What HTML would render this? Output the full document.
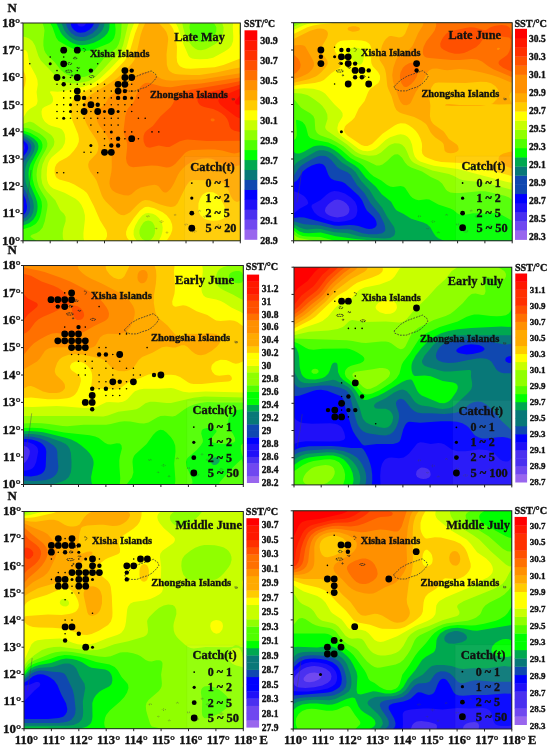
<!DOCTYPE html>
<html><head><meta charset="utf-8"><style>
html,body{margin:0;padding:0;background:#fff;}
svg{display:block;}
text{font-family:"Liberation Serif","Times New Roman",serif;font-weight:bold;fill:#111;stroke:#111;stroke-width:0.35px;}
</style></head><body>
<svg width="550" height="748" viewBox="0 0 550 748">
<rect width="550" height="748" fill="#fff"/>
<clipPath id="c1"><rect x="23" y="23" width="217.3" height="217.8"/></clipPath>
<g clip-path="url(#c1)">
<rect x="23" y="23" width="217.3" height="217.8" fill="#2010f8"/>
<path fill="#0000ff" d="M23 23l54.3 0 .3 1.5 1.2 1.5 1.5 .6 1.6 0 1.5-.4 1.5-1 1.4-2.2 154 0 0 217.8-217.3 0 0-30.3 .9-4.2-.2-3.1-.7-3.2 0-47.6 1.1-1.7 .8-3-.6-3-1.3-1.8z"/>
<path fill="#1048b0" d="M23 23l47.7 0 .6 3 .7 1.5 2.3 2.8 3 1.9 3 .6 4.6-.6 4.5-2.5 3-3 1.8-3.7 146.1 0 0 217.8-217.3 0 0-25.1 2.8-3.4 1-3 .2-3-.9-6.1-3.1-7.1 0-36.3 3.7-4.6 1.3-3 .2-1.5-.6-3-1-1.5-3.6-3.3z"/>
<path fill="#087878" d="M23 23l43 0 .7 3 1.4 3 3.2 4 4.5 3.1 4.5 1 3.1-.2 3-.7 6-3 4.5-4.2 1.8-3 .9-3 140.7 0 0 217.8-217.3 0 0-21.6 3.4-2.4 2.3-3 1.2-3 .4-4.5-.6-4.6-1.4-4.5-5.3-10.9 0-23.9 6.3-8.7 1.5-3 .7-3-.5-3-2-2.9-1.8-1.6-4.2-2.7z"/>
<path fill="#00a850" d="M23 23l38.4 0 3.1 7.5 2.1 3 3 3 3.2 2.3 3 1.4 3 .7 3.1 .2 3-.3 4.6-1.3 4.4-2 3.8-2.5 3.2-3 2-3 1.1-3 .5-3 135.8 0 0 217.8-217.3 0 0-18.5 4.5-2.3 3.4-3.2 2.2-4.5 .7-4.5-.1-3-.9-4.6-5.7-13.5-1.5-4.5-.8-6 .2-6 .9-4.5 1.2-3 5.6-9 1.4-3 .8-4.5-1.1-3-2.5-3-3.8-2.7-4.5-2.2z"/>
<path fill="#00ff00" d="M23 23l33.2 0 4.5 9.6 1.7 2.4 2.9 3.1 3.7 2.9 3.8 2.2 4.5 1.6 4.6 .5 6-.7 6-1.9 6.1-2.9 4.5-3.2 2.8-3.1 1.5-3 .6-3 .1-4.5 130.8 0 0 217.8-217.3 0 0-15.3 6-2.3 4.2-3.4 2.8-4.5 1.3-4.5 .3-4.5-.5-4.6-1.5-4.5-5.8-13.5-1-4.5-.3-6 .5-4.5 1.4-4.5 6.5-12 1.2-3 .4-3-.7-3-.9-1.5-2.9-3-5-3.2-6-2.4z"/>
<path fill="#50ff00" d="M23 23l27.2 0 2.4 4.5 3.6 10.3 2.4 3.2 9.7 5.6 6 2.7 4.5 1.3 6.1 .4 4.5-.4 6-1.8 13.6-5.5 3-2.2 2.1-3.1 1.2-4.5 .3-4.5-.6-6 125.3 0 0 217.8-217.3 0 0-11.6 7.5-2.1 4.7-2.8 1.5-1.5 2-3 1.3-3 1.2-4.5 .8-6-.4-4.6-1-3-4.6-9-1.8-4.5-1.5-6-.3-4.5 .3-4.5 1-4.5 1.8-4.5 5.7-10.5 1.1-3 .2-3-.9-3-.9-1.5-3.1-3-7.1-4.1-7.5-2.5z"/>
<path fill="#90ff00" d="M23 23l19.5 0 1.5 4.5 .5 3-1.1 10.5 0 4.5 .8 4.5 1.4 3.1 2.3 2.9 6.6 6.1 5.9 7.5 3.3 3 3.1 1.9 4.5 1.8 3 .8 4.5 .4 6.1-.7 3.4-1.2 2.6-1.7 4.2-4.3 10.7-13.6 7.7-5.5 3.1-2.8 2.1-3.7 1.8-6 .7-6 .4-9 69 0-.8 1.5-.4 3 1 4.5 1.4 3 2.2 3 2.5 2.4 1.5 .9 3.1 .7 3-.3 4.5-1.8 3-2 3-3.1 1.6-3.1 .2-4.2-1.5-3-1.8-1.5 27.2 0 0 217.8-203.7 0-5-3-1.3-1.5 .2-.2 1.4-1.3 4.7-1.9 3-1.8 3-3.6 2.2-6.2 2.3-12 .5-4.5-.4-3.1-1.2-3-4.9-7.6-2.3-4.4-1.7-6-.6-6 .6-6 1.2-4.5 1.8-4.5 5.9-10.5 1.2-3 .2-3-.9-3-.9-1.5-3-3-3-2.1-9.1-4.7-3-.8-4.5-.4z"/>
<path fill="#c8ff00" d="M128 24.5l.7-1.5 53.6 0 .8 4.5 1.7 6 1.9 4.5 2.3 4.1 3 3.9 3 2.5 3 1.4 3.1 .4 4.5-1 4.5-2.2 6.1-3.6 4.2-4 1.8-3 1.2-4.5 .2-4.5-1.4-4.5 18.1 0 0 217.8-91.5 0 2.7-1.5 2.2-3 1.1-3 .3-4.5-.6-3-1.6-3-1.8-1.5-2.9-.9-3 .8-1.9 1.6-2.6 3.9-1.2 3.6-.1 3 .8 3 2 2.7 3 1.8-81.5 0-.8-3-.2-4.5 .6-4.5 2.3-7.5 0-4.5-1.7-3-3.2-3.1-1-1.4-4.4-9.1-8.2-8.5-2.6-3.5-2.2-4.5-1.1-6 .2-7.5 1.2-6 3-6.7 7.8-11.3 .6-1.5 .4-3-.6-3-1.9-3-1.7-1.5-9.4-6.1-7.2-5.4-3.1-1-1.5 .1-6 2.3 0-87.5 3 .6 3 1.3 3.3 2.5 2.7 4.5 3.4 10.5 2.4 4.6 16.9 17.3 4.5 3 4.6 1.7 6 .8 6-.3 9.1-1.9 3-1.2 4.5-2.9 7.6-7.5 8.1-9 7.7-7.6 2.3-3.1 1.9-4.4z"/>
<path fill="#ffff00" d="M134.2 23l41.5 0 2.3 4.5 5 15.5 5.6 13 1.4 1.5 2 1 3 .6 4.6 .1 7.5-.2 6-1.2 11.5-6.3 4.4-3 2.5-3 1.6-4.5 .2-4.5-.5-9 .3-4.5 7.2 0-.9 3-.2 4.5 .2 3 .9 3.1 0 204.2-81.5 0 2.3-4.5 1.3-4.5 .3-4.5-.9-4.5-2.7-4.5-3.3-3-3-1.6-4.6-.8-3 .7-3 2-3.6 4.2-3.4 6-1.5 4.5-.1 4.5 1 3 2.1 3-52.6 0-.6-3-.1-4.5 1.5-13.5 0-4.5-1.5-6-2.1-4.5-2.5-3.4-3.2-2.7-11.1-6-11.3-4.1-3-2.3-1.8-2.6-1.3-3.7-.4-5.3 .5-7.5 1.1-4.5 1.5-3 1.9-2.4 7.7-6.6 3-3 2.3-4.5 .6-4.5-.6-4.5-1-2.3-1.7-2.3-2.8-1.7-7.5-1.9-3-1.3-3.5-2.6-1.2-1.5-1.6-3-.7-3-.2-3 .9-3 2-1.5 6.6-3 1.4-1.5 .6-1.5 .1-1.5-.6-3-2.7-4.5 .4-.6 1.5-.3 6 .5 6-.6 19.7-4.4 9-3.1 3.5-2 4.1-3 9.5-9 11.4-12.1 3.2-4.4 2.6-6.1 4-15zM23.8 50l.7-.1 1.5 .6 1.5 2.2 1.8 10.9 6.5 12 1.6 4.5 .4 4.5-1.2 7.5 1 9-.7 3-1.1 1.5-5.3 3-3 2.3-1.5 2-3 5.3 0-68z"/>
<path fill="#ffcc00" d="M139.1 23l29.6 0 .7 .7 2 2.3 1.8 3 2.3 7.5 1.5 10.5-.3 10.5 .5 4.6 1.6 3 1.6 1.5 2.6 1.2 3 .8 4.5 .2 24.1-1.5 8.8-2.2 16.9-6.5 0 182.2-73.7 0 3.9-6 1.7-4.5 .2-3-.4-3-1.8-4.5-3.6-4.5-4-3-8.3-4.1-6.1-1.4-3 .3-1.5 .6-3.9 3.1-6.1 7.5-6 9-1.6 4.5 0 3 1 3 2.4 3-25 0 1.5-2.1 1-2.4 0-3-.8-3-6.2-10.1-6.1-13.9-6.2-12.1-1.3-1.7-3-2.6-9.1-5.4-5-2.3-10.1-2.6-2.6-1.9-1-1.5-.9-3-.1-3 .4-3 1.4-3 2.8-2.7 7.6-4 3-2.3 4-4.5 3.2-4.5 1.8-4.5 .1-3-.8-4.5-5.7-13.6-1.6-6-.3-4.5 .1-3 1.1-4.5 1.4-3 2.4-3 4-3 15.9-7.2 7.5-4.8 9-7.5 12.2-12.9 2.8-3.7 2.4-4.5 5.7-19.5zM205.6 192.7l-2.5 1.5-1.3 1.5-1.8 3-1.5 4.5-.2 6.1 .7 3 1.5 3 3.6 3.2 3 1.3 3 .7 3 .2 4.6-.2 3.1-.7 3.2-1.5 1.6-1.5 .8-1.5 .2-3-2.8-7.5-4.1-7.6-2.8-3-3.8-2-4.5-.3zM23 71.1l0-1.2 2 4.2 .9 4.5-.7 6-2.2 6.5z"/>
<path fill="#ffaa00" d="M145.2 23l13.6 0 5.5 6 2.1 3 1.5 4.4 .3 3.1-1.7 15 .4 10.6 1.5 4.5 1.2 1.5 2.8 1.9 3 .9 4.5 .6 12.1 .5 7.6-.1 16.6-2.4 18.1-4 6-.9 0 132.4-1.5 1.3-1.5 .6-1.5-.3-1.5-.8-1.5-1.5-1.6-2.5-4.3-10.1-1.7-2.2-1.5-1.2-3-1.4-3-.8-9.1-.9-15.1-.3-2.9 .8-1.6 1.2-3 4.4-8.4 16.9-2.2 2.6-1.5 .8-3 .4-4.5-.7-6.1-1.8-10.5-4.1-4.6-.4-3 .9-1.5 1-3 2.5-7.6 7.8-3 1.9-3 1.1-3-.1-3-1.5-12.1-11.9-2.4-3-1.7-3-5.3-15-1.8-3-4.5-6-1.9-4.5-.2-3 1-3 7.2-7.5 1.4-3 .7-4.5-.6-3-1.2-3-7.2-10.6-3.1-6-2.5-6-1.2-6 .1-3 .8-4.5 2-4.5 2.7-3 4.4-3 16.3-9.8 7.6-5.2 8.5-7.5 6.8-7.5 2.1-3 2-4.6 4.6-21 2-6z"/>
<path fill="#ff9000" d="M142.3 72.6l4.4-.9 3.1 .4 3 1.3 5.4 3.7 3.6 1.8 4.6 1.3 6 .6 12.1-.8 16.6-.5 39.2-6.3 0 91.8-4.5 1.3-6.1-.1-6-1.6-9.1-4.9-3-1-4.5-.5-6 .6-4.6 1.2-6 2.6-4.5 2.9-3 2.7-3.1 3.5-1.9 3-4.1 8.8-3 5.1-3 3-1.5 .8-1.6 .1-1.5-.6-1.5-1.4-3-4.1-2-1.2-2.5-.4-6.1 .9-7.5 1.9-4.5 2.5-4.8 4.1-2.8 1.3-4.5-.2-6-1.7-3-1.3-3.1-2.4-1.9-3.2-.6-3 .1-3 1.8-9 .4-4.5-.2-15-.7-6-1.3-4.5-2.6-6-1.9-3-5.1-6.1-2.5-4.5-1-4.5 .4-4.1 1.6-3.4 6.5-6 3.5-6 2.5-3 4.1-2.6 7.5-3.5 3-1.8 4.5-3.9 7.2-7.7 2-1.5z"/>
<path fill="#ff7000" d="M233.5 78.6l6.8-1.2 0 74.5-3 1.1-3 .4-3.1-.4-9-2.4-7.6-1-7.5-.1-15.1 .5-3 .7-3 1.5-1.7 1.5-8.9 10-3 2.3-3 1.2-3 .2-9.1-1.6-6-.4-18.1 1.8-3.1-.7-1.5-1.1-1.8-2.7-.8-4.5 1.1-10.5 0-4.5-.8-3-2.2-6-.6-3.1 1.8-15 1.8-6 1.5-2.3 4.7-5.2 1.5-3 3.4-9 1.7-3 2.3-2.7 3-1.8 3-.3 13.6 3.7 4.6 .6 4.5 .1 15.1-2.4 15.1-1.2z"/>
<path fill="#ff5000" d="M238.2 81.6l2.1-.5 0 59.7-33.2 .3-19.6-1.6-3 .4-4.6 1.3-10.5 5.7-3 .1-7.6-1.5-9 2.2-3.1-.7-1.5-1.5-1.5-3.8-.3-3 .2-3 1.1-3 2-2.2 6.1-4.5 7.5-9.4 10.4-9.5 2-3 2.7-6 2.9-3 5.1-3 7.1-2.3 22.6-3.9 15.1-2.3zM211.6 118.6l-.9 .5 .1 1.5 .8 .7 1.5 .3 1.6-1-.3-1.5-1.3-.6z"/>
<path fill="#ff3000" d="M235.8 86.1l4.5-1.5 0 47.3-6-1.1-3.1-1.7-1.5-2.4-1.2-4.6-1.3-3-2.3-3-3.7-3-3.5-2.1-4.6-2-9-2.1-3-1.1-2.1-1.7-1.5-3 0-1.5 .5-1.5 1.2-1.5 2-1.5 3.2-1.5 7.2-2.2 16.6-3.3z"/>
<path fill="#ff1800" d="M239.2 89.1l1.1-.5 0 29.7-1.5-.4-3-1.5-12.7-9.3-3.3-3-1.5-3 .2-1.5 1-1.5 2-1.5z"/>
<path fill="#ff0000" d="M239.1 96.6l1.2-1.3 0 9.3-3 .1-1.5-.7-.8-1.4 .2-1.5z"/>
<path d="M123.0 86.7 129.5 80.2 136.0 76.4 143.6 73.6 151.2 70.9 155.6 74.2 156.6 76.9 154.5 80.2 150.1 84.5 145.8 87.3 140.3 88.9 134.9 91.1 128.4 91.1 123.5 88.9 123.0 86.7" fill="none" stroke="#333" stroke-width="0.8" stroke-dasharray="1.8 1.1"/>
<ellipse cx="69.7" cy="63.6" rx="1.9" ry="1.0" fill="none" stroke="#222" stroke-width="0.9" stroke-dasharray="1.8 0.7"/>
<ellipse cx="68.9" cy="71.2" rx="3.5" ry="1.1" fill="none" stroke="#222" stroke-width="0.9" stroke-dasharray="1.8 0.7"/>
<ellipse cx="78.1" cy="67.9" rx="1.4" ry="0.5" fill="none" stroke="#222" stroke-width="0.9" stroke-dasharray="1.8 0.7"/>
<ellipse cx="91.7" cy="76.6" rx="2.4" ry="1.0" fill="none" stroke="#222" stroke-width="0.9" stroke-dasharray="1.8 0.7"/>
<ellipse cx="71.9" cy="75.5" rx="0.8" ry="0.5" fill="none" stroke="#222" stroke-width="0.9" stroke-dasharray="1.8 0.7"/>
<ellipse cx="75.2" cy="58.1" rx="1.9" ry="0.8" fill="none" stroke="#222" stroke-width="0.9" stroke-dasharray="1.8 0.7"/>
<path d="M82.8 48.6q2.4 -0.6 2.6 1.5q-0.4 1.8 -2.4 1.6" fill="none" stroke="#222" stroke-width="0.8" stroke-dasharray="1.5 0.6"/>
<path d="M232.2 97.9v2h2.2v-1.2h-1.4" fill="none" stroke="#333" stroke-width="0.6"/>
<ellipse cx="147.9" cy="216.3" rx="1.4" ry="0.5" fill="none" stroke="#444" stroke-width="0.5" stroke-dasharray="0.8 0.8"/>
<ellipse cx="161.5" cy="221.7" rx="1.6" ry="0.8" fill="none" stroke="#444" stroke-width="0.5" stroke-dasharray="0.8 0.8"/>
<ellipse cx="175.1" cy="214.9" rx="1.1" ry="0.5" fill="none" stroke="#444" stroke-width="0.5" stroke-dasharray="0.8 0.8"/>
<ellipse cx="186.0" cy="224.5" rx="1.4" ry="0.5" fill="none" stroke="#444" stroke-width="0.5" stroke-dasharray="0.8 0.8"/>
<ellipse cx="194.1" cy="231.3" rx="2.2" ry="0.8" fill="none" stroke="#444" stroke-width="0.5" stroke-dasharray="0.8 0.8"/>
<ellipse cx="167.0" cy="232.6" rx="1.1" ry="0.5" fill="none" stroke="#444" stroke-width="0.5" stroke-dasharray="0.8 0.8"/>
<ellipse cx="205.0" cy="216.3" rx="1.4" ry="0.8" fill="none" stroke="#444" stroke-width="0.5" stroke-dasharray="0.8 0.8"/>
<ellipse cx="156.1" cy="228.5" rx="0.8" ry="0.5" fill="none" stroke="#444" stroke-width="0.5" stroke-dasharray="0.8 0.8"/>
<ellipse cx="218.6" cy="225.8" rx="1.6" ry="0.8" fill="none" stroke="#444" stroke-width="0.5" stroke-dasharray="0.8 0.8"/>
<ellipse cx="199.6" cy="210.9" rx="1.1" ry="0.5" fill="none" stroke="#444" stroke-width="0.5" stroke-dasharray="0.8 0.8"/>
<path d="M31.1 170.0L29.0 186.4L26.3 202.7" fill="none" stroke="#445" stroke-width="0.6" opacity="0.7"/>
<rect x="184.6" y="156.5" width="57.7" height="86.3" fill="#fff" fill-opacity="0.05" stroke="#000" stroke-opacity="0.05" stroke-width="0.6"/>
<g fill="#000"><circle cx="63.7" cy="50.2" r="3.4"/><circle cx="77.3" cy="50.2" r="3.4"/><circle cx="50.2" cy="57.0" r="0.8"/><circle cx="63.7" cy="57.0" r="0.8"/><circle cx="29.8" cy="63.8" r="0.8"/><circle cx="50.2" cy="63.8" r="1.5"/><circle cx="63.7" cy="63.8" r="3.4"/><circle cx="97.7" cy="63.8" r="0.8"/><circle cx="57.0" cy="70.6" r="0.8"/><circle cx="77.3" cy="70.6" r="0.8"/><circle cx="90.9" cy="70.6" r="2.2"/><circle cx="124.9" cy="70.6" r="3.4"/><circle cx="131.7" cy="70.6" r="2.2"/><circle cx="57.0" cy="77.5" r="3.4"/><circle cx="63.7" cy="77.5" r="1.5"/><circle cx="70.5" cy="77.5" r="0.8"/><circle cx="77.3" cy="77.5" r="3.4"/><circle cx="124.9" cy="77.5" r="3.4"/><circle cx="131.7" cy="77.5" r="3.4"/><circle cx="57.0" cy="84.3" r="0.8"/><circle cx="63.7" cy="84.3" r="2.2"/><circle cx="70.5" cy="84.3" r="0.8"/><circle cx="77.3" cy="84.3" r="0.8"/><circle cx="84.1" cy="84.3" r="0.8"/><circle cx="90.9" cy="84.3" r="0.8"/><circle cx="97.7" cy="84.3" r="0.8"/><circle cx="104.5" cy="84.3" r="0.8"/><circle cx="118.1" cy="84.3" r="3.4"/><circle cx="124.9" cy="84.3" r="3.4"/><circle cx="131.7" cy="84.3" r="0.8"/><circle cx="63.7" cy="91.1" r="0.8"/><circle cx="70.5" cy="91.1" r="0.8"/><circle cx="77.3" cy="91.1" r="3.4"/><circle cx="84.1" cy="91.1" r="0.8"/><circle cx="90.9" cy="91.1" r="0.8"/><circle cx="97.7" cy="91.1" r="0.8"/><circle cx="104.5" cy="91.1" r="0.8"/><circle cx="111.3" cy="91.1" r="0.8"/><circle cx="118.1" cy="91.1" r="3.4"/><circle cx="124.9" cy="91.1" r="2.2"/><circle cx="131.7" cy="91.1" r="0.8"/><circle cx="138.4" cy="91.1" r="0.8"/><circle cx="63.7" cy="97.9" r="0.8"/><circle cx="70.5" cy="97.9" r="0.8"/><circle cx="77.3" cy="97.9" r="3.4"/><circle cx="84.1" cy="97.9" r="2.2"/><circle cx="90.9" cy="97.9" r="0.8"/><circle cx="97.7" cy="97.9" r="0.8"/><circle cx="104.5" cy="97.9" r="0.8"/><circle cx="111.3" cy="97.9" r="0.8"/><circle cx="118.1" cy="97.9" r="2.2"/><circle cx="124.9" cy="97.9" r="2.2"/><circle cx="131.7" cy="97.9" r="1.5"/><circle cx="138.4" cy="97.9" r="0.8"/><circle cx="57.0" cy="104.7" r="0.8"/><circle cx="63.7" cy="104.7" r="0.8"/><circle cx="70.5" cy="104.7" r="1.5"/><circle cx="77.3" cy="104.7" r="0.8"/><circle cx="84.1" cy="104.7" r="1.5"/><circle cx="90.9" cy="104.7" r="3.4"/><circle cx="97.7" cy="104.7" r="2.2"/><circle cx="104.5" cy="104.7" r="0.8"/><circle cx="111.3" cy="104.7" r="0.8"/><circle cx="118.1" cy="104.7" r="0.8"/><circle cx="124.9" cy="104.7" r="0.8"/><circle cx="131.7" cy="104.7" r="0.8"/><circle cx="57.0" cy="111.5" r="0.8"/><circle cx="63.7" cy="111.5" r="0.8"/><circle cx="70.5" cy="111.5" r="1.5"/><circle cx="77.3" cy="111.5" r="0.8"/><circle cx="84.1" cy="111.5" r="3.4"/><circle cx="90.9" cy="111.5" r="0.8"/><circle cx="97.7" cy="111.5" r="3.4"/><circle cx="104.5" cy="111.5" r="1.5"/><circle cx="111.3" cy="111.5" r="3.4"/><circle cx="118.1" cy="111.5" r="1.5"/><circle cx="124.9" cy="111.5" r="0.8"/><circle cx="131.7" cy="111.5" r="0.8"/><circle cx="57.0" cy="118.3" r="0.8"/><circle cx="63.7" cy="118.3" r="1.5"/><circle cx="70.5" cy="118.3" r="0.8"/><circle cx="77.3" cy="118.3" r="0.8"/><circle cx="84.1" cy="118.3" r="0.8"/><circle cx="90.9" cy="118.3" r="0.8"/><circle cx="97.7" cy="118.3" r="0.8"/><circle cx="104.5" cy="118.3" r="0.8"/><circle cx="111.3" cy="118.3" r="0.8"/><circle cx="118.1" cy="118.3" r="0.8"/><circle cx="138.4" cy="118.3" r="0.8"/><circle cx="145.2" cy="118.3" r="0.8"/><circle cx="90.9" cy="125.1" r="0.8"/><circle cx="104.5" cy="125.1" r="0.8"/><circle cx="111.3" cy="125.1" r="0.8"/><circle cx="118.1" cy="125.1" r="0.8"/><circle cx="97.7" cy="131.9" r="0.8"/><circle cx="104.5" cy="131.9" r="0.8"/><circle cx="111.3" cy="131.9" r="1.5"/><circle cx="124.9" cy="131.9" r="0.8"/><circle cx="131.7" cy="131.9" r="0.8"/><circle cx="152.0" cy="131.9" r="0.8"/><circle cx="158.8" cy="131.9" r="0.8"/><circle cx="104.5" cy="138.7" r="0.8"/><circle cx="111.3" cy="138.7" r="0.8"/><circle cx="118.1" cy="138.7" r="2.2"/><circle cx="124.9" cy="138.7" r="0.8"/><circle cx="131.7" cy="138.7" r="3.4"/><circle cx="138.4" cy="138.7" r="0.8"/><circle cx="90.9" cy="145.5" r="1.5"/><circle cx="104.5" cy="145.5" r="0.8"/><circle cx="111.3" cy="145.5" r="2.2"/><circle cx="118.1" cy="145.5" r="2.2"/><circle cx="84.1" cy="152.3" r="0.8"/><circle cx="90.9" cy="152.3" r="0.8"/><circle cx="104.5" cy="152.3" r="3.4"/><circle cx="111.3" cy="152.3" r="3.4"/><circle cx="57.0" cy="172.7" r="0.8"/><circle cx="63.7" cy="172.7" r="0.8"/><circle cx="97.7" cy="172.7" r="0.8"/></g>
</g>
<text x="174.3" y="40.5" font-size="13.3" textLength="50.5" lengthAdjust="spacingAndGlyphs">Late May</text>
<text x="89.9" y="57.2" font-size="10.5" textLength="59.6" lengthAdjust="spacingAndGlyphs">Xisha Islands</text>
<text x="149.9" y="97.5" font-size="10.5" textLength="78" lengthAdjust="spacingAndGlyphs">Zhongsha Islands</text>
<text x="190.3" y="170.7" font-size="12" textLength="44.5" lengthAdjust="spacingAndGlyphs">Catch(t)</text>
<text x="205.5" y="186.9" font-size="12">0 ~ 1</text>
<text x="205.5" y="201.9" font-size="12">1 ~ 2</text>
<text x="205.5" y="217" font-size="12">2 ~ 5</text>
<text x="205.5" y="232" font-size="12" textLength="31" lengthAdjust="spacingAndGlyphs">5 ~ 20</text>
<circle cx="191.8" cy="183.1" r="0.9"/>
<circle cx="191.8" cy="198.1" r="1.6"/>
<circle cx="191.8" cy="213.2" r="2.4"/>
<circle cx="191.8" cy="228.2" r="3.4"/>
<rect x="23" y="23" width="217.3" height="217.8" fill="none" stroke="#222" stroke-width="1"/>
<path d="M23.0 240.8v2.5M23.0 23.0h-2.5M50.2 240.8v2.5M23.0 50.2h-2.5M77.3 240.8v2.5M23.0 77.5h-2.5M104.5 240.8v2.5M23.0 104.7h-2.5M131.7 240.8v2.5M23.0 131.9h-2.5M158.8 240.8v2.5M23.0 159.1h-2.5M186.0 240.8v2.5M23.0 186.4h-2.5M213.1 240.8v2.5M23.0 213.6h-2.5M240.3 240.8v2.5M23.0 240.8h-2.5" stroke="#222" stroke-width="1" fill="none"/>
<rect x="244.5" y="229.54" width="12.80" height="10.26" fill="#9966ee"/>
<rect x="244.5" y="219.58" width="12.80" height="10.26" fill="#7048f0"/>
<rect x="244.5" y="209.61" width="12.80" height="10.26" fill="#4a30f0"/>
<rect x="244.5" y="199.65" width="12.80" height="10.26" fill="#2010f8"/>
<rect x="244.5" y="189.69" width="12.80" height="10.26" fill="#0000ff"/>
<rect x="244.5" y="179.73" width="12.80" height="10.26" fill="#1048b0"/>
<rect x="244.5" y="169.77" width="12.80" height="10.26" fill="#087878"/>
<rect x="244.5" y="159.80" width="12.80" height="10.26" fill="#00a850"/>
<rect x="244.5" y="149.84" width="12.80" height="10.26" fill="#00ff00"/>
<rect x="244.5" y="139.88" width="12.80" height="10.26" fill="#50ff00"/>
<rect x="244.5" y="129.92" width="12.80" height="10.26" fill="#90ff00"/>
<rect x="244.5" y="119.96" width="12.80" height="10.26" fill="#c8ff00"/>
<rect x="244.5" y="110.00" width="12.80" height="10.26" fill="#ffff00"/>
<rect x="244.5" y="100.03" width="12.80" height="10.26" fill="#ffcc00"/>
<rect x="244.5" y="90.07" width="12.80" height="10.26" fill="#ffaa00"/>
<rect x="244.5" y="80.11" width="12.80" height="10.26" fill="#ff9000"/>
<rect x="244.5" y="70.15" width="12.80" height="10.26" fill="#ff7000"/>
<rect x="244.5" y="60.19" width="12.80" height="10.26" fill="#ff5000"/>
<rect x="244.5" y="50.22" width="12.80" height="10.26" fill="#ff3000"/>
<rect x="244.5" y="40.26" width="12.80" height="10.26" fill="#ff1800"/>
<rect x="244.5" y="30.30" width="12.80" height="10.26" fill="#ff0000"/>
<text x="260.2" y="44.0" font-size="10">30.9</text>
<text x="260.2" y="64.0" font-size="10">30.7</text>
<text x="260.2" y="84.0" font-size="10">30.5</text>
<text x="260.2" y="104.0" font-size="10">30.3</text>
<text x="260.2" y="124.0" font-size="10">30.1</text>
<text x="260.2" y="144.0" font-size="10">29.9</text>
<text x="260.2" y="164.0" font-size="10">29.7</text>
<text x="260.2" y="184.0" font-size="10">29.5</text>
<text x="260.2" y="204.0" font-size="10">29.3</text>
<text x="260.2" y="224.0" font-size="10">29.1</text>
<text x="260.2" y="244.0" font-size="10">28.9</text>
<text x="244.1" y="27.2" font-size="10" textLength="31" lengthAdjust="spacingAndGlyphs">SST/°C</text>
<text x="20.1" y="26.8" font-size="13" text-anchor="end">18°</text>
<text x="20.1" y="54.0" font-size="13" text-anchor="end">17°</text>
<text x="20.1" y="81.2" font-size="13" text-anchor="end">16°</text>
<text x="20.1" y="108.5" font-size="13" text-anchor="end">15°</text>
<text x="20.1" y="135.7" font-size="13" text-anchor="end">14°</text>
<text x="20.1" y="162.9" font-size="13" text-anchor="end">13°</text>
<text x="20.1" y="190.2" font-size="13" text-anchor="end">12°</text>
<text x="20.1" y="217.4" font-size="13" text-anchor="end">11°</text>
<text x="20.1" y="244.6" font-size="13" text-anchor="end">10°</text>
<text x="12.3" y="11.6" font-size="13" text-anchor="middle">N</text>
<clipPath id="c2"><rect x="293.6" y="22.7" width="218.6" height="218.1"/></clipPath>
<g clip-path="url(#c2)">
<rect x="293.6" y="22.7" width="218.6" height="218.1" fill="#4a30f0"/>
<path fill="#2010f8" d="M293.6 22.7l218.6 0 0 218.1-218.6 0zM334.3 200l-4.5 2.9-1.9 1.8-2.3 3-.7 3 .5 1.5 1.2 1.5 2.2 1.5 2.5 1.1 3 .8 3 .3 6.1-.9 2.9-1.3 1.6-1.3 1.1-1.7 .5-3-.9-3-2.2-2.8-3-2.2-3.1-1.2-3-.5z"/>
<path fill="#0000ff" d="M293.6 22.7l218.6 0 0 218.1-218.6 0 0-27.3 6-4.8 7.5-4 1.2-1.5-.9-3-2.2-3-1.6-1.5-5.2-3-4.8-1.5zM334.3 191.1l-3 .6-2.1 1-2.4 1.8-6.1 5.5-8.7 4.7-.5 1.5 .3 1.5 2.4 4.5 3.2 3 2.5 1.5 7.1 3 7.3 2 4.5 .3 6.1-.7 6-1.5 3-1.6 1.6-1.5 .9-1.5 1-4.5-.4-4.5-1.9-4.5-4.2-4.2-6-3.9-6.1-2.2z"/>
<path fill="#1048b0" d="M293.6 22.7l218.6 0 0 218.1-218.6 0 0-22.9 6-.7 4.6 .3 30.1 7.9 4.5 .3 10.6-.6 4.5 .1 4.5 .8 7.6 2.4 3 .5 3.2-.1 2.8-1.2 1.4-1.8 .3-1.5-.5-3.1-1.2-2.4-1.6-2.1-6.4-6-1.7-3-3.2-7.5-3.3-4.5-13.9-12.5-3.1-1.4-7.5-1.5-3-1.5-1.5-1.5-1.5-2.5-3-8-1.5-1.9-1.6-1-3-.5-3 .5-4.5 1.6-4.5 2.4-4.4 3.7-4.5 7.5-1.3 1.5-3.4 2.1z"/>
<path fill="#087878" d="M293.6 22.7l218.6 0 0 218.1-218.6 0 0-19.6 10.6 3 16.5 1.2 13.6 3.4 4.5 .4 9.1 0 3 .4 11.7 3.7 6.4 1 7.5 0 5.6-1 2.2-1.5 .8-1.5 .2-1.5-.5-3-1-3-4.5-9.1-8.8-10.4-6-10-7.6-8.2-6-9.9-3-2.8-7.6-3.2-3-1.9-6-7.3-3-2.5-3-1.4-4.6-.4-3 .7-4.5 2-7.5 4.3-4.6 3.1-3 3.2-4.5 7.3z"/>
<path fill="#00a850" d="M293.6 22.7l218.6 0 0 218.1-218.6 0 0-16.6 6 3.4 4.6 1.5 3 .3 9-.6 4.5 .1 13.6 3.4 13.6 .9 12 3.2 11.8 1.4 12.4 .8 6-.5 3.3-1.8 1.2-1.5 .7-3-1.1-4.5-7.1-10.6-4.9-9-7.2-8.6-5.6-9.4-8-8.4-6-9.2-3.8-3.5-9.7-6-6.1-6-3.8-3-3.7-2-4.5-1.3-4.6 0-3 .9-18.1 10.3-2.8 2.6-1.7 3.2z"/>
<path fill="#00ff00" d="M293.6 22.7l218.6 0 0 218.1-68.3 0-5.6-2.5-2.5-2-2-2.8-3.5-6.2-3.2-3-3.8-1.9-12.1-3.7-7.5-4.7-6.1-2.9-1.5-1.1-1.5-1.9-3.5-6.4-9.3-7.5-5.9-7.5-10.2-9.1-7-9-3.7-3-8.6-5.3-7.6-7.1-4.5-3.3-4.5-2.4-3-1.1-4.6-.9-3-.1-3 .3-3 .9-9.8 5.5-3.8 1.4-3 .1-1.5-.7-.9-.8-.6-.7zM293.6 227.3l6 4.2 4.6 1.5 4.5 .2 12-.6 15.1 3.6 19.6 2.9 20.2 1.7-82 0z"/>
<path fill="#50ff00" d="M293.6 22.7l218.6 0 0 198-12.1-6.6-4.5-1.2-10.5 .6-12.1-.2-9 1.6-3.1 0-3-1.1-4.5-3.7-3-1.7-12.1-3.9-9-5-3-.3-7.6 1.1-3-.7-3-1.7-2.4-2.2-5.1-7.6-1.5-1.4-3.1-.8-7.5 1-3-.3-3-1.6-5.8-4.4-7.8-4.4-3.8-3.1-6.8-7.6-3-2.2-9.3-5.2-8.8-7.9-6-4.1-7.5-3.5-13.6-2.9-4.5-1.8-2-2.4-1.9-7.5-1.2-3-2.5-2.9-3-1.7-3-.7-.6 .8 .7 10.5 0 4.5-.9 3-2.2 1.7 0-22.2 .6-.5-.6-3.6zM293.6 230.3l4.5 3.9 4.5 1.7 4.6 .6 13.5 .6 13.9 3.7-41 0z"/>
<path fill="#90ff00" d="M293.6 24.2l2.7-1.5 215.9 0 0 177.2-3-2.3-4.5-1.8-12.4-3.1-7.2-1.4-6.1-.1-18.1 1.7-6 0-4.5-.5-3-1.4-1.5-1.6-3.8-5.8-3.6-3-7.7-3.5-8.7-5.5-10.9-4.2-3.5-1.8-2.7-3-2.9-4.8-3-2.9-1.5-.6-3 .3-2.9 2-4.6 4.5-4.6 3.3-3 1.1-3 0-9.2-4.4-11.9-4.9-3.9-2.6-8.1-7.3-6.1-3.8-6-3.2-10.6-3.7-2.6-1.6-1.4-1.5-1.4-3-.7-10.5-1.3-3-3.1-2.8-6-3.4-3.1-2.1-5.6-6.8-1.9-1.6zM293.6 234.8l0-.9 3 2.9 3 1.3 14.1 2.7-20.1 0z"/>
<path fill="#c8ff00" d="M299.1 24.2l3.9-1.5 209.2 0 0 167.2-25.6-6.9-6.1-1-13.5-1.2-4.6-.8-3-1-6-3.2-4.5-1.9-16.6-3.4-13.6-5.2-4.5-2.2-2.5-2-2.1-3-2.9-7.2-1.9-3.4-2.7-2.7-3-1.3-4.5-.2-3.8 1.2-2.5 1.5-7.3 6.5-4.5 2.4-3 .7-4.5 .2-7.6-1.3-3-1.2-3-1.7-8.3-7.1-19.5-13.5-1.5-1.5-.8-1.5-.1-1.5 2.3-7.5-.2-4.5-2-4.6-3.1-4.1-3-2.8-4.7-3.6-4.5-3-2.8-1.4-6-1.6-7.6-.4 0-66.2z"/>
<path fill="#ffff00" d="M306.7 24.2l6.1-1.5 199.4 0 0 160.2-6-1.2-48.3-12.6-24.1-3.3-6.1-1.7-7.5-2.7-3-1.8-2.4-3-1.5-4.5-1.3-7.6-1.8-4.5-2.4-3-2.2-1.5-1.9-.8-3.1-.4-3 .4-7.5 2.6-4.5 2.8-7.6 7-2.8 1.9-3.2 1.4-4.5 .8-4.6-.5-4.1-1.7-7.9-6.1-7.5-5.3-2.4-2.1-2.5-3-.7-1.5-.5-3 1.1-4.5 3.7-6 .6-1.5-.2-3.1-2.1-3-6.1-5.7-9-10.4-2.5-1.9-3-1.5-6.6-1.7-9-.5-10.6 .8 0-58.9 9-4.4zM350.9 48.2l-2.5 1.6-.6 1.5 .6 3 1.8 3 3.7 4.5 3 2.4 3 .5 1.5-.7 1.5-2.2 1-4.5-.1-3-.9-3-1.5-1.7-3-1.5-4.5-.5z"/>
<path fill="#ffcc00" d="M320.6 24.2l9.2-.7 4.8-.8 177.6 0 0 153.5-17.2-4.6-11.4-4-6.1-1.7-16.6-2.8-19.6-1.2-6-1.2-7.5-2.6-3-1.7-1.5-1.3-1-1.5-.5-3 .3-4.6-.3-3-1.4-4.5-2.3-4.5-2.2-3-3.2-3.1-4.3-2.9-3.2-1.4-4.6-.4-3 .9-3 1.5-12.1 8.1-10.5 10.4-4.5 1.9-3 .1-3.1-1-14-9.6-2.5-2.8-.8-1.7-.1-1.5 1-3 1.4-1.8 5.4-4.2 2.8-3 4.1-9.1 5.9-7.5 3.6-9 1.9-3 8.2-6 1.6-3 .2-3.1-.3-1.5-1.8-3.4-5.3-5.6-1.3-3-.4-3 .4-9-.2-3-.9-3-1.3-1.9-3-1.9-4.6-.9-9-.5-9 .3-3.1 .7-3 1.7-1.9 2.5-.9 3 .5 3 5.4 9 1.1 3-.1 1.5-.6 1.5-1.3 1.5-8.2 5.4-7.4 6.7-3.2 1.7-6 1.5-13.6 1.5-7.5 1.2 0-51.8 13.8-6.8 5.8-1.8z"/>
<path fill="#ffaa00" d="M409.5 22.7l102.7 0 0 68.2-2.1 2.5-.7 3 .6 3 2.2 4.8-13.6 .2-7.7-.5 1.7-.4 4.5-4.7 1.7-3.9 0-3-1.1-3-2.5-3-4.1-2.6-4.5-1.3-6.1-.3-15 1.2-27.2-.5-3 .7-1.5 .9-2.4 3.4-1.4 4.5-.7 6 1.1 7.5-.5 10.6 1 4.5 2 3 1.7 1.5 8.5 6 1.4 1.5 4.4 6.5 7.9 5.5 1.2 1.5 .7 3-.5 1.6-1.8 1.5-3 .9-3 .3-3-.5-1.6-.7-1.2-1.5-.9-6.1-.8-1.5-1.6-1.5-6-4.1-3-2.8-1.6-2.1-3.9-7.5-1.4-1.5-4.3-3-6.9-3.5-12.1-3.5-3-1.2-2.7-2.4-1.8-3.5-3-10.1-3.3-7.4-1-3-1.3-12.1-1-4.5-1.3-3-3.9-6-.4-3 .3-3 2.5-9 1.9-4 1.5-2.1 3-2.6 1.5-.5 1.5-.1 7.5 1.5 3-.7 1.6-1.2 1.5-2.2zM348.5 27.2l3.9-1 3 .1 3.5 .9 1.2 1.5-.8 1.5-.9 .5-3 .9-3 .1-4.2-1.5-.7-1.5zM317 28.7l3.7-.2 3.1 .5 2.4 1.2 1.3 1.5 .4 1.5 0 1.5-.9 3-5.3 9.1-.8 3 .9 3 5.4 7.5 .6 3-.5 1.5-2 3-4.1 4.5-3.5 3-2.5 1.5-6.5 2.5-15.1 3.4 0-43.7 16.6-8.3zM446.7 103.9l3.2 0 9.5 1.1 21.1-.1 5.5 .5-5.5 .4-28.6 .2-7-.6 1-1.2zM508.9 152.1l3.3-.5 0 17-6-2.3-4.1-2.2-1.8-1.5-1.7-3 0-1.5 .6-1.5 1.4-1.5 2.7-1.5z"/>
<path fill="#ff9000" d="M423.6 22.7l88.6 0 0 60-3-.9-10.6-4.5-6-2-10.6-2.8-13.5-2.8-9.1-.6-12 1.2-3-.2-7.6-1.6-4.5 .2-3 1.6-1.8 2-5.8 11.3-6 8.6-4.8 10.2-1.4 1.5-2.8 1.3-3-.3-1.5-1-1.6-1.8-1.5-3.2-6.1-17.5-.8-6.1 1.1-7.5 2.6-7.5 1.7-3.1 3-2.6 7.6-4.1 3.7-3.7 1.6-3 4.6-10.6 4.6-7.5zM295.8 45.3l3.8-.4 3 .3 1.6 .6 1.2 1 7.6 13.5 1.1 3 0 1.5-.3 1.5-1.5 3-2.9 3-2 1.5-6.3 3-7.5 2.5 0-33.6z"/>
<path fill="#ff7000" d="M436.1 22.7l76.1 0 0 54.5-18.9-7.9-5-3-6.3-4.8-4.5-1.9-6-.7-12.1 1.1-7.5 0-22.6-1.9-3-.6-1.5-.7-1.5-1.8-.5-2.2 .1-3 .7-3 2.7-5.6 6-7.4 2.4-3.6 1.5-4.5zM497.1 48.1l0 1.7 1.5 .1 1.6-1.6-1.6-.6zM293.6 55.8l0-.7 1.5 .7 3.2 3 1.6 3 .7 3-.4 3-.7 1.5-2.7 3-3.2 2.1zM409 63.3l2.2-.5 3-.1 1.5 .4 1.5 1.3 1 3.4-.2 4.5-1.3 4.5-2.5 4-3 3.1-3 2.3-1.5 .8-1.5 .1-1.5-.7-2.4-3.5-1.3-4.5-.1-3.1 .7-3.1 2.3-4.4 2.3-2.4z"/>
<path fill="#ff5000" d="M495.1 25.7l6.5-.6 4.6 .4 3 1.5 1 1.7 1.3 6 .7 1.6 0 35.6-9.2-4.1-3.8-3-.7-1.5 .2-1.5 1.1-1.5 6.4-4.6 1.5-1.5 1.7-2.9 1.2-4.5 .3-6.1-.2-1.5-1.5-1.6-19.6-2.7-3 .1-1.5 1.1-5.3 7.7-3.8 3.5-9 4.5-3 1.1-4.6 .9-4.5 0-6-1.5-5.3-2.5-2-1.5-1.1-1.5-.3-3 1.1-3.1 1.6-3 3-3.6 1.5-1.3 3-1.5 15.1-3.3 4.5-.7 4.5 .2 9.1 2.6 1.5 .1 1.5-.5 3.9-2.5z"/>
<path fill="#ff3000" d="M512 58.8l.2 4.7-.7-1.7z"/>
<path d="M394.2 86.5 400.7 80.0 407.3 76.1 414.9 73.4 422.6 70.7 426.9 74.0 428.0 76.7 425.9 80.0 421.5 84.3 417.1 87.0 411.6 88.7 406.2 90.9 399.6 90.9 394.7 88.7 394.2 86.5" fill="none" stroke="#333" stroke-width="0.8" stroke-dasharray="1.8 1.1"/>
<ellipse cx="340.6" cy="63.3" rx="1.9" ry="1.0" fill="none" stroke="#222" stroke-width="0.9" stroke-dasharray="1.8 0.7"/>
<ellipse cx="339.8" cy="71.0" rx="3.6" ry="1.1" fill="none" stroke="#222" stroke-width="0.9" stroke-dasharray="1.8 0.7"/>
<ellipse cx="349.1" cy="67.7" rx="1.4" ry="0.5" fill="none" stroke="#222" stroke-width="0.9" stroke-dasharray="1.8 0.7"/>
<ellipse cx="362.7" cy="76.4" rx="2.5" ry="1.0" fill="none" stroke="#222" stroke-width="0.9" stroke-dasharray="1.8 0.7"/>
<ellipse cx="342.8" cy="75.3" rx="0.8" ry="0.5" fill="none" stroke="#222" stroke-width="0.9" stroke-dasharray="1.8 0.7"/>
<ellipse cx="346.1" cy="57.9" rx="1.9" ry="0.8" fill="none" stroke="#222" stroke-width="0.9" stroke-dasharray="1.8 0.7"/>
<path d="M353.7 48.3q2.4 -0.6 2.6 1.5q-0.4 1.8 -2.4 1.6" fill="none" stroke="#222" stroke-width="0.8" stroke-dasharray="1.5 0.6"/>
<path d="M504.0 97.7v2h2.2v-1.2h-1.4" fill="none" stroke="#333" stroke-width="0.6"/>
<ellipse cx="419.3" cy="216.3" rx="1.4" ry="0.5" fill="none" stroke="#444" stroke-width="0.5" stroke-dasharray="0.8 0.8"/>
<ellipse cx="433.0" cy="221.7" rx="1.6" ry="0.8" fill="none" stroke="#444" stroke-width="0.5" stroke-dasharray="0.8 0.8"/>
<ellipse cx="446.6" cy="214.9" rx="1.1" ry="0.5" fill="none" stroke="#444" stroke-width="0.5" stroke-dasharray="0.8 0.8"/>
<ellipse cx="457.6" cy="224.4" rx="1.4" ry="0.5" fill="none" stroke="#444" stroke-width="0.5" stroke-dasharray="0.8 0.8"/>
<ellipse cx="465.7" cy="231.3" rx="2.2" ry="0.8" fill="none" stroke="#444" stroke-width="0.5" stroke-dasharray="0.8 0.8"/>
<ellipse cx="438.4" cy="232.6" rx="1.1" ry="0.5" fill="none" stroke="#444" stroke-width="0.5" stroke-dasharray="0.8 0.8"/>
<ellipse cx="476.7" cy="216.3" rx="1.4" ry="0.8" fill="none" stroke="#444" stroke-width="0.5" stroke-dasharray="0.8 0.8"/>
<ellipse cx="427.5" cy="228.5" rx="0.8" ry="0.5" fill="none" stroke="#444" stroke-width="0.5" stroke-dasharray="0.8 0.8"/>
<ellipse cx="490.3" cy="225.8" rx="1.6" ry="0.8" fill="none" stroke="#444" stroke-width="0.5" stroke-dasharray="0.8 0.8"/>
<ellipse cx="471.2" cy="210.8" rx="1.1" ry="0.5" fill="none" stroke="#444" stroke-width="0.5" stroke-dasharray="0.8 0.8"/>
<path d="M301.8 169.9L299.6 186.3L296.9 202.6" fill="none" stroke="#445" stroke-width="0.6" opacity="0.7"/>
<rect x="455.7" y="156.1" width="58.5" height="86.7" fill="#fff" fill-opacity="0.05" stroke="#000" stroke-opacity="0.05" stroke-width="0.6"/>
<g fill="#000"><circle cx="334.6" cy="47.2" r="0.8"/><circle cx="320.9" cy="50.0" r="3.4"/><circle cx="341.4" cy="50.0" r="2.2"/><circle cx="348.2" cy="50.0" r="2.2"/><circle cx="320.9" cy="56.8" r="2.2"/><circle cx="334.6" cy="56.8" r="1.5"/><circle cx="341.4" cy="56.8" r="3.4"/><circle cx="348.2" cy="56.8" r="3.4"/><circle cx="320.9" cy="63.6" r="3.4"/><circle cx="341.4" cy="63.6" r="1.5"/><circle cx="348.2" cy="63.6" r="3.4"/><circle cx="355.1" cy="63.6" r="2.2"/><circle cx="416.6" cy="63.6" r="3.4"/><circle cx="355.1" cy="70.4" r="3.4"/><circle cx="361.9" cy="70.4" r="3.4"/><circle cx="368.7" cy="70.4" r="2.2"/><circle cx="416.6" cy="70.4" r="2.2"/><circle cx="355.1" cy="77.2" r="2.2"/><circle cx="361.9" cy="77.2" r="2.2"/><circle cx="368.7" cy="77.2" r="0.8"/><circle cx="334.6" cy="84.0" r="0.8"/><circle cx="348.2" cy="84.0" r="3.4"/><circle cx="368.7" cy="84.0" r="3.4"/><circle cx="341.4" cy="131.8" r="1.5"/></g>
</g>
<text x="448.6" y="39.4" font-size="13.3" textLength="52.4" lengthAdjust="spacingAndGlyphs">Late June</text>
<text x="361" y="56" font-size="10.5" textLength="59.6" lengthAdjust="spacingAndGlyphs">Xisha Islands</text>
<text x="421.4" y="96.6" font-size="10.5" textLength="78" lengthAdjust="spacingAndGlyphs">Zhongsha Islands</text>
<text x="461.4" y="170.3" font-size="12" textLength="44" lengthAdjust="spacingAndGlyphs">Catch(t)</text>
<text x="476.6" y="186.8" font-size="12">0 ~ 1</text>
<text x="476.6" y="202" font-size="12">1 ~ 2</text>
<text x="476.6" y="217" font-size="12">2 ~ 5</text>
<text x="476.6" y="231.5" font-size="12" textLength="31" lengthAdjust="spacingAndGlyphs">5 ~ 50</text>
<circle cx="462.6" cy="183.0" r="0.9"/>
<circle cx="462.6" cy="198.2" r="1.6"/>
<circle cx="462.6" cy="213.2" r="2.4"/>
<circle cx="462.6" cy="227.7" r="3.4"/>
<rect x="293.6" y="22.7" width="218.6" height="218.1" fill="none" stroke="#222" stroke-width="1"/>
<path d="M293.6 240.8v2.5M293.6 22.7h-2.5M320.9 240.8v2.5M293.6 50.0h-2.5M348.2 240.8v2.5M293.6 77.2h-2.5M375.6 240.8v2.5M293.6 104.5h-2.5M402.9 240.8v2.5M293.6 131.8h-2.5M430.2 240.8v2.5M293.6 159.0h-2.5M457.6 240.8v2.5M293.6 186.3h-2.5M484.9 240.8v2.5M293.6 213.5h-2.5M512.2 240.8v2.5M293.6 240.8h-2.5" stroke="#222" stroke-width="1" fill="none"/>
<rect x="515" y="230.43" width="12.00" height="9.47" fill="#9966ee"/>
<rect x="515" y="221.27" width="12.00" height="9.47" fill="#7048f0"/>
<rect x="515" y="212.10" width="12.00" height="9.47" fill="#4a30f0"/>
<rect x="515" y="202.94" width="12.00" height="9.47" fill="#2010f8"/>
<rect x="515" y="193.77" width="12.00" height="9.47" fill="#0000ff"/>
<rect x="515" y="184.61" width="12.00" height="9.47" fill="#1048b0"/>
<rect x="515" y="175.44" width="12.00" height="9.47" fill="#1048b0"/>
<rect x="515" y="166.28" width="12.00" height="9.47" fill="#087878"/>
<rect x="515" y="157.11" width="12.00" height="9.47" fill="#00a850"/>
<rect x="515" y="147.95" width="12.00" height="9.47" fill="#00ff00"/>
<rect x="515" y="138.78" width="12.00" height="9.47" fill="#50ff00"/>
<rect x="515" y="129.62" width="12.00" height="9.47" fill="#90ff00"/>
<rect x="515" y="120.45" width="12.00" height="9.47" fill="#c8ff00"/>
<rect x="515" y="111.29" width="12.00" height="9.47" fill="#ffff00"/>
<rect x="515" y="102.12" width="12.00" height="9.47" fill="#ffcc00"/>
<rect x="515" y="92.96" width="12.00" height="9.47" fill="#ffaa00"/>
<rect x="515" y="83.79" width="12.00" height="9.47" fill="#ff9000"/>
<rect x="515" y="74.63" width="12.00" height="9.47" fill="#ff9000"/>
<rect x="515" y="65.46" width="12.00" height="9.47" fill="#ff7000"/>
<rect x="515" y="56.30" width="12.00" height="9.47" fill="#ff5000"/>
<rect x="515" y="47.13" width="12.00" height="9.47" fill="#ff3000"/>
<rect x="515" y="37.97" width="12.00" height="9.47" fill="#ff1800"/>
<rect x="515" y="28.80" width="12.00" height="9.47" fill="#ff0000"/>
<text x="529" y="41.9" font-size="9.5">30.5</text>
<text x="529" y="59.9" font-size="9.5">30.3</text>
<text x="529" y="77.9" font-size="9.5">30.1</text>
<text x="529" y="95.9" font-size="9.5">29.9</text>
<text x="529" y="113.9" font-size="9.5">29.7</text>
<text x="529" y="131.8" font-size="9.5">29.5</text>
<text x="529" y="149.8" font-size="9.5">29.3</text>
<text x="529" y="167.8" font-size="9.5">29.1</text>
<text x="529" y="185.8" font-size="9.5">28.9</text>
<text x="529" y="203.8" font-size="9.5">28.7</text>
<text x="529" y="221.7" font-size="9.5">28.5</text>
<text x="529" y="239.7" font-size="9.5">28.3</text>
<text x="514.4" y="26.8" font-size="10" textLength="32.6" lengthAdjust="spacingAndGlyphs">SST/°C</text>
<clipPath id="c3"><rect x="23.5" y="265.5" width="219.8" height="219.0"/></clipPath>
<g clip-path="url(#c3)">
<rect x="23.5" y="265.5" width="219.8" height="219.0" fill="#4a30f0"/>
<path fill="#2010f8" d="M23.5 265.5l219.8 0 0 219-219.8 0 0-21 2-1.5 2.2-3 1.8-4.5 .4-3-.4-1.6-1.5-2.2-1.5-1-3-1z"/>
<path fill="#0000ff" d="M23.5 265.5l219.8 0 0 219-219.8 0 0-13.7 3-.2 3.9-1.1 2.1-1.3 1.7-1.7 2-4.5 2-10.5-.5-3-.8-1.5-2.9-2.6-4.6-1.9-5.9-.8z"/>
<path fill="#1048b0" d="M23.5 265.5l219.8 0 0 219-219.8 0 0-8.4 7.5 .3 6-.9 4-1.5 2-1.5 1.2-1.5 .8-1.5 .7-3 .6-15-.6-3-.7-1.5-2.6-3-2.2-1.5-3.4-1.5-4.3-1.2-4.5-.7-4.5-.2z"/>
<path fill="#087878" d="M23.5 265.5l219.8 0 0 219-219.8 0 0-3.9 10.5 .3 7.6-.3 4.5-.6 4.6-1.5 2.9-1.7 2.8-2.8 1.4-3 .6-4.5-.9-9-.2-6-1-3-2.6-3-7-4.5-6.6-2.6-7.6-1.6-9-.4z"/>
<path fill="#00a850" d="M23.5 265.5l219.8 0 0 219-192.4 0 5.7-1.2 5.5-1.8 3.6-1.7 3.1-2.8 2-4.5 .6-4.5 .1-6-.6-9-1.4-4.5-2.1-3-1.8-1.5-4.5-2.2-13.5-4.7-7.5-2-7.6-1.1-9-.1z"/>
<path fill="#00ff00" d="M23.5 265.5l219.8 0 0 219-151.1 0-.8-3-.3-4.5 2.4-12 .1-3-.6-3-1.5-3-2.1-3-2.8-3-5.3-4.5-4.2-3-5.9-3-5.5-1.8-15.1-3.8-7.5-1.6-6.1-.9-7.5-.4-6 .2zM214.7 457.3l-2.7 1.7-.8 1.5-.1 1.5 .6 1.7 1.5 1.2 1.5 .2 1.5-.3 1.8-1.3 1.2-1.5 .5-1.5-.2-1.5-1.6-1.5z"/>
<path fill="#50ff00" d="M23.5 265.5l219.8 0 0 143.8-6 .8-4.5 2-2.1 1.9-2 4.5-.8 4.5-.2 3 1.2 3 3.9 4.5 2.2 4.5 .2 3-1.6 1.5-5.4 1-6 .4-4.5-.3-4.9-1.1-1.8-1.5-.2-1.5 .7-1.5 4.9-6 .1-1.5-2.2-1.5-4.1-.9-3-.1-4.2 1-1.3 1.5-.5 3 1.6 6 .1 1.5-.3 1.5-1.9 3-3.9 4.5-8.8 7.5-1.1 1.5-.9 3 .5 4.5 4.1 9 1.6 4.5 .3 3-.4 .4-3.7 1.1-13.7 0 .6-3 0-3-1.1-15 1.3-12-.3-6-1.7-4.5-2.5-3.8-4.5-4.8-3-2.1-3-.5-2.3 .7-2.3 1.5-2.9 3-6.4 9-11.5 10.5-1.1 1.5-1.2 3-.3 3 .9 10.5-1.5 5-5.4 7-6.8 0 .6-6-.9-12-.1-6 .6-4.2 2-7.8-.4-3-1.6-1.9-3.1-.4-6 1.3-3-.3-3-1.5-6-4.7-3.6-1.5-5.5-1.2-25.6-2.9-22.5-4.2-9.1-.5-9 .3zM242.1 444l1.2-.5 0 13.7-.8-1.2-.7-2-1-5.5 .1-3zM240.1 460.5l1.7-1.2 .8 2.7 .7 8.8 0 13.7-22.6-.1-1.5-.7 0-.7 1.1-1.5 6.4-7.5 7.6-8.1z"/>
<path fill="#90ff00" d="M23.5 265.5l219.8 0 0 11.8-.5-2.8-1-2-1.5-1.2-1.5-.4-3 0-3 .8-2.2 1.3-1.3 1.5-.5 1.5 .1 1.5 .6 1.5 1.2 1.5 2.1 1.4 3 1 3 .4 3-.8 1.2-2 .3-1.4 0 123.3-24.1 .1-12-.4-7.6 .8-6 1.8-4.5 1.9-4.9 2.9-8.6 6.2-3.1 .7-7.5-.6-4.5 .3-3 1.2-9 5.2-4.6 1.1-4.5-.3-9-1.8-6-.3-4.5 .6-9.1 2.3-4.5 .6-22.6 .1-16.5 1.5-4.6-.2-13.5-2.1-7.5-.8-9.1-.2-9 .5z"/>
<path fill="#c8ff00" d="M23.5 265.5l206.1 0-6.1 1.5-3 1.5-1.7 1.5-1.1 1.5-1.3 3-.5 3 0 3 1.4 4.5 1.1 1.5 2.3 2.1 3 1.7 9.1 4.1 7.5 4.4 3 1.2 0 97.5-39.1-1.1-10.6 1.4-22.6 5.1-4.5 .1-12-1.3-4.5 0-4.6 1.5-6 4.6-3 1.4-4.5 .9-13.6 1.6-10.5 3.8-4.5 .9-15.1-.4-64.7 .1z"/>
<path fill="#ffff00" d="M23.5 265.5l178.6 0 .6 3 .1 3-1.4 13.5 0 4.5 .6 3 1.5 3 1.8 1.5 1.9 .8 9 1.6 4.5 1.5 3.8 2.1 6.8 4.6 9 4.1 3 1.9 0 78.8-37.6-.9-16.6 1-6-.8-9.1-3.2-3-.5-12 .8-15.1 0-4.5 .6-4.5 1.9-1.9 1.7-5.4 6-2 1.5-2.7 1.2-4.6 .8-9-.5-3 .3-9 4.1-4.5 1.2-9.1 .4-18-1.6-9.1-.3-24.1 1-9-.3z"/>
<path fill="#ffcc00" d="M23.5 265.5l151.1 0-.7 6 1 12 0 6-.5 4.5-2.2 7.5 .3 3.3 1.5 1.5 1.6 .4 7.5-1.4 3 .4 3 1.3 7.5 4.3 10.8 3.7 6.9 4.5 1.9 .9 4.5 .6 9.1-.7 4.5 .5 3 1.3 6 4.1 0 35.1-4.5 1.9-3 .6-3-.7-2.9-1.6-3.8-1.5-5.4-.2-5.1 1.7-3.3 3-.8 1.5-.3 3 1.2 3 2.3 2.4 1.5 .8 3 .6 9-1.1 1.6 .4 1.5 1.4 .6 1.5-.1 1.5-1.6 1.5-2 .5-10.5 .7-15.9 1.8-8.2 .1-3-.6-2.3-1-8.2-5.6-4.5-1.7-4.6-.5-10.5 .3-9-1-3 .5-8.2 3.5-9.9 3.6-4.4 2.4-6.1 4.6-1.6 .7-3 .5-10.5-1.2-4.5 .1-6 .7-1.5-.4-1.3-2-.2-1.5 .9-7.5-.1-3-.6-3-1.5-3-2.3-3-3.9-3-4.1-1.5-4.2 0-3.8 1.8-1.5 2.4-.1 1.8 .6 1.5 1.2 1.5 6.6 4.5 1.4 1.5 .8 1.5 .2 3-1.2 4.5-2.4 6-2.3 3-1.8 1.4-3 1.5-3 .9-9.1 1-10.5-.1-16.6-1.6-7.5 .5z"/>
<path fill="#ffaa00" d="M23.5 265.5l82.4 0-.2 1.5 .7 3 3.3 4.5 4.1 3.2 4.5 1.5 3.1-.5 1.5-.9 1.5-1.6 5.3-10.7 24.8 0 1.5 4.5 .4 6-.5 7.5-2 12-.1 7.5 1.5 9 1.2 3 2 3 9 7.5 6.5 7.8 3.1 2.5 1.5 .6 3 0 6-2.3 3-.4 9 .3 9.1-.7 4.5 .1 3 .7 2.8 1.9 1.3 3-.3 3-.6 1.5-2.4 3-5.5 4.5-5.8 3.2-4.6 1.1-3-.4-3-1.1-3.6-2.8-3.9-4.1-3-1.7-3 0-6 2.3-3.1 0-6-.9-4.5 .6-9.1 5.3-10.7 4.5-3.5 3-4 6-2.8 2.7-3 1.6-4.5 .9-6.1-.3-4.5-1.7-3-2.3-6-6.6-3.8-1.8-20.3-4.2-6-.3-6 .8-6.1 2.2-3 2.3-2.5 3.7-2.1 6-.2 3 1.3 3 6.4 6 2.1 3 .5 3-.3 1.5-2.2 2.5-3 1.4-3 .7-7.5 0-6.1-1.6-9-4.5-3-.9-3 .2-4.5 2.4z"/>
<path fill="#ff9000" d="M23.5 265.5l54.9 0-.5 1.5 .4 1.5 1.1 1.5 2.9 3 4 3 4.9 2.7 10.6 4.8 20 10.5 4.3 3 2.9 3 4.1 6 1.2 3 .5 3-.2 3-1 4.5-3.2 7.4-3 3.7-1.5 1.2-3 1.5-4.6 .7-10.5-.3-4.5 1.2-3.3 2.6-4.2 7.8-1.5 1.3-3.1 1.2-4.5 .3-9-.5-22.6-.4-3 .2-3 .8-2.4 1.3-1.8 1.5-5 7.5-2.9 3-13.5 8.1zM142 270l1.9-.1 1.5 .6 1.5 1.5 .8 2.5-.1 3-1.2 3-1.2 1.5-1.3 .9-1.5 .4-1.5-.1-1.8-1.2-1.2-1.8-.5-2.7 .3-3 .5-1.5 1.2-1.7z"/>
<path fill="#ff7000" d="M23.5 268.5l0-.9 15.1 2.8 6 1.7 15.6 5.4 10 4.1 21.4 10.9 4.3 3 3.4 3 4 4.5 3.3 4.5 1.6 3 .8 3-.3 3-.6 1.5-1.3 1.5-2 1.5-10.5 5-10.6 5.9-4.5 1.8-4.5 .9-4.5 .1-13.6-1.8-4.5 .6-4.5 1.8-7.5 4-6.1 4-3.3 3.2-7.2 8.4z"/>
<path fill="#ff5000" d="M23.5 274.5l0-.8 7.5 2.1 10.6 5.8 12 4.2 4.8 2.2 4.3 3 3 3 2.9 4.5 1.5 4.5-.1 1.5-5.9 2.3-9.8 5.2-11.2 4.8-4.5 2.5-3.6 3.2-5.5 7.6-3 2.4-3 1.5zM71.7 306l1.5-.7 4.5 .9 3 2 1.5 1.7 1.3 2.1 .7 3-.5 2-1.5 1.9-1.5 .9-3 .3-1.5-.7-1.5-1.4-1.6-3-.8-3-.7-4.5z"/>
<path fill="#ff3000" d="M23.5 294l0-1.1 1.5 2.7 3 2.9 7.5 3.7 1.4 .8 .9 1.5-.2 1.5-1.2 1.5-8.4 7.1-4.5 5.6z"/>
<path d="M124.6 329.6 131.2 323.0 137.8 319.2 145.5 316.4 153.2 313.7 157.6 317.0 158.7 319.7 156.5 323.0 152.1 327.4 147.7 330.1 142.2 331.7 136.7 333.9 130.1 333.9 125.2 331.7 124.6 329.6" fill="none" stroke="#333" stroke-width="0.8" stroke-dasharray="1.8 1.1"/>
<ellipse cx="70.8" cy="306.3" rx="1.9" ry="1.0" fill="none" stroke="#222" stroke-width="0.9" stroke-dasharray="1.8 0.7"/>
<ellipse cx="69.9" cy="314.0" rx="3.6" ry="1.1" fill="none" stroke="#222" stroke-width="0.9" stroke-dasharray="1.8 0.7"/>
<ellipse cx="79.3" cy="310.7" rx="1.4" ry="0.5" fill="none" stroke="#222" stroke-width="0.9" stroke-dasharray="1.8 0.7"/>
<ellipse cx="93.0" cy="319.4" rx="2.5" ry="1.0" fill="none" stroke="#222" stroke-width="0.9" stroke-dasharray="1.8 0.7"/>
<ellipse cx="73.0" cy="318.3" rx="0.8" ry="0.5" fill="none" stroke="#222" stroke-width="0.9" stroke-dasharray="1.8 0.7"/>
<ellipse cx="76.3" cy="300.8" rx="1.9" ry="0.8" fill="none" stroke="#222" stroke-width="0.9" stroke-dasharray="1.8 0.7"/>
<path d="M83.9 291.2q2.4 -0.6 2.6 1.5q-0.4 1.8 -2.4 1.6" fill="none" stroke="#222" stroke-width="0.8" stroke-dasharray="1.5 0.6"/>
<path d="M235.1 340.8v2h2.2v-1.2h-1.4" fill="none" stroke="#333" stroke-width="0.6"/>
<ellipse cx="149.9" cy="459.9" rx="1.4" ry="0.5" fill="none" stroke="#444" stroke-width="0.5" stroke-dasharray="0.8 0.8"/>
<ellipse cx="163.6" cy="465.3" rx="1.6" ry="0.8" fill="none" stroke="#444" stroke-width="0.5" stroke-dasharray="0.8 0.8"/>
<ellipse cx="177.4" cy="458.5" rx="1.1" ry="0.5" fill="none" stroke="#444" stroke-width="0.5" stroke-dasharray="0.8 0.8"/>
<ellipse cx="188.4" cy="468.1" rx="1.4" ry="0.5" fill="none" stroke="#444" stroke-width="0.5" stroke-dasharray="0.8 0.8"/>
<ellipse cx="196.6" cy="474.9" rx="2.2" ry="0.8" fill="none" stroke="#444" stroke-width="0.5" stroke-dasharray="0.8 0.8"/>
<ellipse cx="169.1" cy="476.3" rx="1.1" ry="0.5" fill="none" stroke="#444" stroke-width="0.5" stroke-dasharray="0.8 0.8"/>
<ellipse cx="207.6" cy="459.9" rx="1.4" ry="0.8" fill="none" stroke="#444" stroke-width="0.5" stroke-dasharray="0.8 0.8"/>
<ellipse cx="158.1" cy="472.2" rx="0.8" ry="0.5" fill="none" stroke="#444" stroke-width="0.5" stroke-dasharray="0.8 0.8"/>
<ellipse cx="221.3" cy="469.4" rx="1.6" ry="0.8" fill="none" stroke="#444" stroke-width="0.5" stroke-dasharray="0.8 0.8"/>
<ellipse cx="202.1" cy="454.4" rx="1.1" ry="0.5" fill="none" stroke="#444" stroke-width="0.5" stroke-dasharray="0.8 0.8"/>
<path d="M31.7 413.3L29.5 429.8L26.8 446.2" fill="none" stroke="#445" stroke-width="0.6" opacity="0.7"/>
<rect x="186.9" y="400.1" width="58.4" height="86.4" fill="#fff" fill-opacity="0.05" stroke="#000" stroke-opacity="0.05" stroke-width="0.6"/>
<g fill="#000"><circle cx="64.7" cy="292.9" r="0.8"/><circle cx="71.6" cy="292.9" r="3.4"/><circle cx="51.0" cy="299.7" r="3.4"/><circle cx="57.8" cy="299.7" r="3.4"/><circle cx="64.7" cy="299.7" r="3.4"/><circle cx="71.6" cy="299.7" r="3.4"/><circle cx="57.8" cy="306.6" r="2.2"/><circle cx="64.7" cy="306.6" r="3.4"/><circle cx="71.6" cy="306.6" r="0.8"/><circle cx="99.1" cy="306.6" r="0.8"/><circle cx="64.7" cy="327.1" r="0.8"/><circle cx="78.5" cy="327.1" r="2.2"/><circle cx="85.3" cy="327.1" r="0.8"/><circle cx="64.7" cy="333.9" r="3.4"/><circle cx="71.6" cy="333.9" r="3.4"/><circle cx="78.5" cy="333.9" r="3.4"/><circle cx="119.7" cy="333.9" r="0.8"/><circle cx="126.5" cy="333.9" r="0.8"/><circle cx="57.8" cy="340.8" r="3.4"/><circle cx="64.7" cy="340.8" r="3.4"/><circle cx="71.6" cy="340.8" r="3.4"/><circle cx="78.5" cy="340.8" r="3.4"/><circle cx="85.3" cy="340.8" r="3.4"/><circle cx="71.6" cy="347.6" r="3.4"/><circle cx="78.5" cy="347.6" r="3.4"/><circle cx="85.3" cy="347.6" r="3.4"/><circle cx="99.1" cy="347.6" r="0.8"/><circle cx="105.9" cy="347.6" r="0.8"/><circle cx="147.1" cy="347.6" r="0.8"/><circle cx="71.6" cy="354.5" r="0.8"/><circle cx="78.5" cy="354.5" r="0.8"/><circle cx="85.3" cy="354.5" r="0.8"/><circle cx="99.1" cy="354.5" r="2.2"/><circle cx="105.9" cy="354.5" r="2.2"/><circle cx="112.8" cy="354.5" r="0.8"/><circle cx="119.7" cy="354.5" r="3.4"/><circle cx="78.5" cy="361.3" r="0.8"/><circle cx="85.3" cy="361.3" r="0.8"/><circle cx="92.2" cy="361.3" r="0.8"/><circle cx="105.9" cy="361.3" r="0.8"/><circle cx="119.7" cy="361.3" r="0.8"/><circle cx="85.3" cy="368.2" r="0.8"/><circle cx="92.2" cy="368.2" r="0.8"/><circle cx="105.9" cy="368.2" r="0.8"/><circle cx="112.8" cy="368.2" r="0.8"/><circle cx="126.5" cy="368.2" r="0.8"/><circle cx="133.4" cy="368.2" r="0.8"/><circle cx="78.5" cy="375.0" r="0.8"/><circle cx="85.3" cy="375.0" r="0.8"/><circle cx="99.1" cy="375.0" r="0.8"/><circle cx="112.8" cy="375.0" r="0.8"/><circle cx="133.4" cy="375.0" r="0.8"/><circle cx="140.3" cy="375.0" r="0.8"/><circle cx="154.0" cy="375.0" r="2.2"/><circle cx="160.9" cy="375.0" r="3.4"/><circle cx="99.1" cy="381.8" r="0.8"/><circle cx="105.9" cy="381.8" r="0.8"/><circle cx="112.8" cy="381.8" r="3.4"/><circle cx="119.7" cy="381.8" r="2.2"/><circle cx="126.5" cy="381.8" r="0.8"/><circle cx="133.4" cy="381.8" r="3.4"/><circle cx="92.2" cy="388.7" r="2.2"/><circle cx="99.1" cy="388.7" r="0.8"/><circle cx="105.9" cy="388.7" r="2.2"/><circle cx="112.8" cy="388.7" r="0.8"/><circle cx="119.7" cy="388.7" r="0.8"/><circle cx="126.5" cy="388.7" r="0.8"/><circle cx="92.2" cy="395.5" r="3.4"/><circle cx="105.9" cy="395.5" r="0.8"/><circle cx="112.8" cy="395.5" r="0.8"/><circle cx="119.7" cy="395.5" r="0.8"/><circle cx="85.3" cy="402.4" r="3.4"/><circle cx="92.2" cy="402.4" r="3.4"/><circle cx="92.2" cy="409.2" r="2.2"/></g>
</g>
<text x="175" y="283.8" font-size="13.3" textLength="59.2" lengthAdjust="spacingAndGlyphs">Early June</text>
<text x="91" y="299" font-size="10.5" textLength="60.8" lengthAdjust="spacingAndGlyphs">Xisha Islands</text>
<text x="151" y="341" font-size="10.5" textLength="79.2" lengthAdjust="spacingAndGlyphs">Zhongsha Islands</text>
<text x="192.6" y="414.3" font-size="12" textLength="44" lengthAdjust="spacingAndGlyphs">Catch(t)</text>
<text x="207.7" y="430.9" font-size="12">0 ~ 1</text>
<text x="207.7" y="446.1" font-size="12">1 ~ 2</text>
<text x="207.7" y="461.5" font-size="12">2 ~ 5</text>
<text x="207.7" y="476.8" font-size="12" textLength="31.3" lengthAdjust="spacingAndGlyphs">5 ~ 50</text>
<circle cx="193.8" cy="427.1" r="0.9"/>
<circle cx="193.8" cy="442.3" r="1.6"/>
<circle cx="193.8" cy="457.7" r="2.4"/>
<circle cx="193.8" cy="473.0" r="3.4"/>
<rect x="23.5" y="265.5" width="219.8" height="219.0" fill="none" stroke="#222" stroke-width="1"/>
<path d="M23.5 484.5v2.5M23.5 265.5h-2.5M51.0 484.5v2.5M23.5 292.9h-2.5M78.5 484.5v2.5M23.5 320.2h-2.5M105.9 484.5v2.5M23.5 347.6h-2.5M133.4 484.5v2.5M23.5 375.0h-2.5M160.9 484.5v2.5M23.5 402.4h-2.5M188.4 484.5v2.5M23.5 429.8h-2.5M215.8 484.5v2.5M23.5 457.1h-2.5M243.3 484.5v2.5M23.5 484.5h-2.5" stroke="#222" stroke-width="1" fill="none"/>
<rect x="246.9" y="476.20" width="12.20" height="6.80" fill="#9966ee"/>
<rect x="246.9" y="469.69" width="12.20" height="6.80" fill="#7048f0"/>
<rect x="246.9" y="463.19" width="12.20" height="6.80" fill="#7048f0"/>
<rect x="246.9" y="456.69" width="12.20" height="6.80" fill="#4a30f0"/>
<rect x="246.9" y="450.18" width="12.20" height="6.80" fill="#2010f8"/>
<rect x="246.9" y="443.68" width="12.20" height="6.80" fill="#2010f8"/>
<rect x="246.9" y="437.18" width="12.20" height="6.80" fill="#0000ff"/>
<rect x="246.9" y="430.68" width="12.20" height="6.80" fill="#1048b0"/>
<rect x="246.9" y="424.17" width="12.20" height="6.80" fill="#1048b0"/>
<rect x="246.9" y="417.67" width="12.20" height="6.80" fill="#087878"/>
<rect x="246.9" y="411.17" width="12.20" height="6.80" fill="#087878"/>
<rect x="246.9" y="404.66" width="12.20" height="6.80" fill="#00a850"/>
<rect x="246.9" y="398.16" width="12.20" height="6.80" fill="#00ff00"/>
<rect x="246.9" y="391.66" width="12.20" height="6.80" fill="#00ff00"/>
<rect x="246.9" y="385.15" width="12.20" height="6.80" fill="#50ff00"/>
<rect x="246.9" y="378.65" width="12.20" height="6.80" fill="#90ff00"/>
<rect x="246.9" y="372.15" width="12.20" height="6.80" fill="#90ff00"/>
<rect x="246.9" y="365.64" width="12.20" height="6.80" fill="#c8ff00"/>
<rect x="246.9" y="359.14" width="12.20" height="6.80" fill="#ffff00"/>
<rect x="246.9" y="352.64" width="12.20" height="6.80" fill="#ffff00"/>
<rect x="246.9" y="346.13" width="12.20" height="6.80" fill="#ffcc00"/>
<rect x="246.9" y="339.63" width="12.20" height="6.80" fill="#ffaa00"/>
<rect x="246.9" y="333.13" width="12.20" height="6.80" fill="#ffaa00"/>
<rect x="246.9" y="326.62" width="12.20" height="6.80" fill="#ff9000"/>
<rect x="246.9" y="320.12" width="12.20" height="6.80" fill="#ff9000"/>
<rect x="246.9" y="313.62" width="12.20" height="6.80" fill="#ff7000"/>
<rect x="246.9" y="307.12" width="12.20" height="6.80" fill="#ff5000"/>
<rect x="246.9" y="300.61" width="12.20" height="6.80" fill="#ff5000"/>
<rect x="246.9" y="294.11" width="12.20" height="6.80" fill="#ff3000"/>
<rect x="246.9" y="287.61" width="12.20" height="6.80" fill="#ff1800"/>
<rect x="246.9" y="281.10" width="12.20" height="6.80" fill="#ff1800"/>
<rect x="246.9" y="274.60" width="12.20" height="6.80" fill="#ff0000"/>
<text x="261.8" y="291.5" font-size="9.5">31.2</text>
<text x="261.8" y="304.5" font-size="9.5">31</text>
<text x="261.8" y="317.5" font-size="9.5">30.8</text>
<text x="261.8" y="330.4" font-size="9.5">30.6</text>
<text x="261.8" y="343.4" font-size="9.5">30.4</text>
<text x="261.8" y="356.4" font-size="9.5">30.2</text>
<text x="261.8" y="369.3" font-size="9.5">30</text>
<text x="261.8" y="382.3" font-size="9.5">29.8</text>
<text x="261.8" y="395.3" font-size="9.5">29.6</text>
<text x="261.8" y="408.2" font-size="9.5">29.4</text>
<text x="261.8" y="421.2" font-size="9.5">29.2</text>
<text x="261.8" y="434.2" font-size="9.5">29</text>
<text x="261.8" y="447.1" font-size="9.5">28.8</text>
<text x="261.8" y="460.1" font-size="9.5">28.6</text>
<text x="261.8" y="473.1" font-size="9.5">28.4</text>
<text x="261.8" y="486.0" font-size="9.5">28.2</text>
<text x="245.8" y="270.3" font-size="10" textLength="32.4" lengthAdjust="spacingAndGlyphs">SST/°C</text>
<text x="20.6" y="269.3" font-size="13" text-anchor="end">18°</text>
<text x="20.6" y="296.7" font-size="13" text-anchor="end">17°</text>
<text x="20.6" y="324.1" font-size="13" text-anchor="end">16°</text>
<text x="20.6" y="351.4" font-size="13" text-anchor="end">15°</text>
<text x="20.6" y="378.8" font-size="13" text-anchor="end">14°</text>
<text x="20.6" y="406.2" font-size="13" text-anchor="end">13°</text>
<text x="20.6" y="433.6" font-size="13" text-anchor="end">12°</text>
<text x="20.6" y="460.9" font-size="13" text-anchor="end">11°</text>
<text x="20.6" y="488.3" font-size="13" text-anchor="end">10°</text>
<text x="12.3" y="254" font-size="13" text-anchor="middle">N</text>
<clipPath id="c4"><rect x="294" y="267.2" width="217.8" height="217.7"/></clipPath>
<g clip-path="url(#c4)">
<rect x="294" y="267.2" width="217.8" height="217.7" fill="#4a30f0"/>
<path fill="#2010f8" d="M294 267.2l217.8 0 0 217.7-217.8 0zM420.2 468l-2.7 1.9-1 1.5-.5 3 1.2 2.5 3 1.7 3 .5 3-.3 2.9-1.4 1.2-1.5 .4-1.5-.6-3-1-1.5-2.1-1.5-2.3-.7-3-.1z"/>
<path fill="#0000ff" d="M294 267.2l217.8 0 0 190.5-1.5 2.1-1.5 1.1-1.5 .5-1.5 .2-3-.6-3-1.8-4.5-4.8-3-2.4-3-1.3-3-.8-7.5-.3-13.6 1.7-7.5-.1-3-.6-3-1.2-7.5-5.1-3-1.1-3-.1-7.5 1-7.5-1.7-3-.1-3 1.2-8.1 9.9-2.4 2.2-3 1.8-4.6 .9-7.5-.7-3 .2-3 1.3-1.5 1.3-2.1 3.5-1.2 4.5-.6 7.5 .4 9-86.6 0 0-40.8 4.5-1.9 7.5-1 24 .3 9.1-.3 4.5-1.3 1.3-1.5 .3-1.5-1-4.5-2.1-4.3-1.5-1.8-3-1.8-3-.8-4.6-.4-18 .4-9-.8-3-.7-3-1.6-1.5-1.4-1.5-2.3z"/>
<path fill="#1048b0" d="M294 267.2l217.8 0 0 88.9-3 .2-2.3 1-1.1 1.5-.1 1.5 .8 1.5 2.7 1.3 1.5-.1 1.5-.6 0 76.9-4.5-1.5-4.5-.7-4.5 .2-12 1.3-3.9-.2-3.6-1-3-1.4-1.6-1.2-5.2-7-2.3-2-4.3-2.5-5.4-1.5-6.8-.6-9 0-21 1.5-10.5-1-1.5 .4-1.5 1-1.5 2-1.9 4.2-2.7 9.9-1.2 2.2-1.8 1.3-4.5 1.2-16.5 .1-12 1.5-1.5-.4-1.5-1.4-6-8.2-2.7-4.6-1.8-4.6-3-10.5-2.3-6-2.2-9.6-1.1-2.4-1.5-1.5-14-5.6-6-1-4.5 .4-3 .7-13.5 4.8-3 .5-3 0zM465.2 345l-4.7 1.8-2.5 1.5-1.5 1.5-.2 1.5 1.8 1.5 2.6 .8 6 .8 6-.3 7.6-1.8 2.4-1 1.7-1.5 0-1.5-1.5-1.5-4.1-1.7-7.6-.9zM300.8 447.4l8.2-1.1 22.6-.3 7.5 .4 12 1.5 10.5 0 1.5 1 2.1 3 3 6 2.1 6 1.1 4.5 .8 6 .1 6-.5 4.5-77.8 0 0-34.5 3-1.7z"/>
<path fill="#087878" d="M294 267.2l217.8 0 0 76.6-4.5 .6-4.5-.2-16.5-3.4-10.5-1.1-10.6 .1-10.5 1.2-7.5 1.7-3 1.1-2.3 1.5-2.2 2-1.8 2.5-1.4 3-.6 3 .7 3 1.6 1.6 4.5 1.8 6 .9 7.5-.5 12-2.6 9.1-1.4 4.5-.3 4.5 .4 3 1.2 2.3 1.9 4.6 7.5 2.1 2 3 1.4 3 .6 7.5-.1 0 57.2-10.5-9.7-6.3-7.9-4.2-4.6-4.5-3.8-4.5-2.4-4.5-.6-4.6 1-3 1.7-7.5 6.1-3 1.5-4.5 1.3-10.5 1-13.5-.8-9 0-4.5-.8-3-1.4-3.2-2.7-6-7.5-2.1-1.5-2.3-.5-1.5 .4-1.5 .9-1.6 2.2 .2 3 2.5 7.5 .4 3-.2 3-.6 3-1.6 4.5-1.5 3-2.1 2.8-3 2.2-4.5 1.1-4.5-.1-12-1.8-3-.8-3-1.5-2.2-1.9-2.3-3-1.5-3.1-1.4-4.4-5.7-22.5-1.9-3.8-2.3-2.2-3-1.5-3.7-1.3-9.1-2-9 .1-18 2.2-3-.1-3-1.1-1.5-1.4-1.5-2.8zM306.5 450.4l20.5-1.1 7.6 .1 9 1.7 6 2.1 3.5 1.7 4 2.9 2.8 3.1 2.1 3 2.2 4.5 1.5 4.5 .6 4.5-.3 4.5-.8 3-71.2 0 0-29.6 3-2 3-1.4z"/>
<path fill="#00a850" d="M294 267.2l217.8 0 0 68-54.1 0-6 .7-4.5 1-4.5 1.5-4.5 2.4-5.1 4.5-8.6 10.5-2.3 4.5-.2 1.5 .4 1.5 1 1.5 1.3 1 3 1.3 12 3.5 4.5 1 6 0 18-1.6 1.5 0 1.5 .7-.2 6.1 1.1 6 .1 3-.8 3-.9 1.5-2.7 3-13.1 12.1-3 1.8-3 1-6 .7-4.5-.4-9-1.9-7.5-1-3-1-3-2.1-1.5-1.6-4.5-6.5-3-3.2-3-1.4-1.6-.2-3 .6-4.5 2.1-9 5.9-8.4 4.1-2.1 1.5-1 1.5 0 1.5 1.3 1.5 2.7 .5 7.5 0 3 1.1 1.8 1.4 2 3 .8 3-.8 4.5-1.7 3-2.1 1.9-1.5 .7-3 .5-4.5-.6-8.7-2.5-4.8-2.3-3-3.4-1.3-3.3-2.1-7.5-6.4-15-2.2-3.4-3-2.8-12-6.5-3-.8-16.6 3.1-7.5 .4-4.5-.3-3-1-1.5-1-1.5-1.5-1.6-2.7-2.9-5.9zM311 453.4l16-1.1 7.6 .2 7.5 1.9 6 3 4.1 3.5 2.5 3 2.4 3.7 1.8 3.8 1.2 4.5 .2 3-.3 3-1 3-65 0 0-24.8 3-2.3 4.5-2.3 4.5-1.4z"/>
<path fill="#00ff00" d="M294 267.2l217.8 0 0 59.8-10.5-.6-30.1 1.6-13.5 1.2-9 1.7-7.5 2.3-7.5 3.7-5.3 3.9-6.7 7-6 7.7-3.3 6.3-.8 3-.2 3 .3 3 1 3.3 1.5 1.6 1.5 .4 9-.5 6 .6 12 4.9 10.5 1.3 3 1.3 1.4 2.1 .2 1.5-.2 1.5-1.2 3-4.7 6.8-2.2 2.2-2.3 1.5-3 .9-4.5-.3-18-7.4-2.7-2.2-1.8-2.5-4.5-9.9-1.5-1.3-1.5-.2-3 .6-4.6 1.9-18 10.9-6 2.9-10.5 4-3 .2-1.5-.4-3-2.2-4.6-7-2.4-3-3.5-3-6.6-4.5-2.8-3-2.1-4.5-.6-7.5-.6-1.5-.8-.6-1.5-.2-1.8 .8-1.2 1.6-1.9 5.9-1.5 3-3.2 3-3 1.5-7 1.3-6-.3-3-.8-1.5-.9-1.5-1.4-1.5-2.3-1-3.1-.9-4.5-.5-9-.8-4.5-2-4.5-2.3-2.5zM315.9 456.4l11.1-.9 6.1 .1 6 1.5 4.5 2.5 3 2.8 2.4 3 1.7 3 1.9 4.5 1 6-.3 3-.9 3-58.4 0 0-19.8 6-4.3 4.5-2.1 4.5-1.3z"/>
<path fill="#50ff00" d="M294 267.2l217.8 0 0 40.8-1.5 3.4-1.5 2.1-3 1.7-4.5 .9-4.5 .2-6-.3-12-1.4-4.6 0-3 .6-4.5 1.6-9 4.7-18 5.5-13.5 6.3-4.4 3-3.1 3.1-8.4 13.4-7 9-1.6 3-2.3 9-2.9 4.5-5.2 4.5-11.8 7.5-7.4 3.2-3 .8-3 .1-3-.9-1.5-1.2-6-7-8.4-7-1.3-1.5-1.1-3 .4-3 1.4-2.1 1.5-1.4 3-1.5 9.2-2.5 2.7-1.5 1.2-1.5 .2-1.5-.6-1.5-1.4-1.5-4.5-3-3.8-2-4.5-1.7-3-.5-24.1 .2-9 .9-4.5-.4-3-1.2-7.1-4.3-4.9-2.1zM312.8 369.3l2.2-.6 2.4 .6 1.2 1.5-.1 1.5-2 1.5-3.1 0-1.9-1.5 0-1.5zM324.4 459.4l5.6-.2 4.6 .7 4.5 2.4 2.8 3.1 2.2 4.5 1 4.5-.2 4.5-1.8 6-49.1 0 0-13.6 9-6.3 5.3-2.6 5.2-1.5z"/>
<path fill="#90ff00" d="M294 267.2l204.2 0 6.1 3.9 1.4 2.1 .3 1.5-.2 2.1-1.4 2.4-3.1 1.4-4.5 0-3-.9-4.5-2.3-1.5-.2-1.5 .4-1.3 1.6-.4 1.5 0 3 1 7.5-.9 3-1.4 .9-1.5 0-6-1.5-3.1 .1-1.5 .6-3 2.5-5.5 6.4-8.3 7.5-3.9 3-4.8 2.4-12 3.8-15 7.5-4.5 3.5-3 3.5-6 12.4-1.5 1.5-1.6 .8-1.5 .2-3-1.3-6-4.6-3-1.3-3-.5-4.5-.1-15 1.6-4.5-.4-9-1.8-6-.7-52.6-1.8zM372.7 369.3l6.9-1.3 3-.1 3 .5 2.1 .9 1.6 1.5 .7 1.5 0 1.5-1.2 3-3.3 3-8.9 6.1-6 2.8-3 .3-1.5-.3-3-1.6-8.8-8.8-1.3-1.5-.7-1.5 .3-1.6 1.5-1.3 1.5-.6zM321.2 465.4l4.3-.4 3.9 .4 3.2 1.5 1.3 1.5 .9 3-.2 2.6-1.5 3.3-1.5 2-4.6 3.6-5.8 2-13.6 0-2.7-1.5-1.3-1.5-.6-1.5 0-1.5 1.1-3 2-3 3.2-3 2.7-1.8 3-1.3z"/>
<path fill="#c8ff00" d="M294 267.2l163.4 0-5.7 3.9-6.4 8.1-8.6 7.9-9.2 10.1-13.9 13.5-6.9 8.2-1.5 1.4-3.1 1.6-3 .5-13.5-.9-21 .4-12-1.9-1.5 .2-2.1 1-4.5 4.6-2.1 1.5-4.8 1.8-9.1 1.4-19.5 1.3-15 3.4z"/>
<path fill="#ffff00" d="M294 267.2l109.1 0-2.5 .6-1.1 .9-4.9 7.8-2.7 2.7-2.4 1.5-9.9 3.8-15 3-5 2.2-3.3 3-3.7 4.5-3 2.6-8.7 3.4-3.3 2.2-3 3-6.8 8.3-5.3 4.2-4.5 2.1-13.5 4.6-10.5 4.4zM405.9 267.2l10.5 0-3.7 .4zM384.5 300.2l4.1-.2 3 .6 2.5 1.1 1.6 1.5 .9 1.5 .4 3-.9 2.3-1.5 1.8-1.5 1-2.6 .9-4.9 .2-5.8-1.7-3.2-2.4-1-2.1 .2-1.5 .8-1.5 1.3-1.5 2.1-1.5z"/>
<path fill="#ffcc00" d="M294 267.2l88.4 0 .5 1.5-.1 1.5-.6 1.5-1.4 1.5-2.2 1.5-6.5 2.9-10.5 3.4-4.5 1.8-3.8 2.4-6.7 5.3-9 5.1-22.6 21.5-4.5 3-16.5 8.5z"/>
<path fill="#ffaa00" d="M294 267.2l73.8 0-.5 1.5-1.1 1.5-1.7 1.5-13.4 7.2-15 11.4-10.6 11.4-15.4 13.5-4.3 3-11.8 6.9z"/>
<path fill="#ff9000" d="M294 267.2l64.1 0-3.2 3-8.3 5.7-10.5 8.9-3.5 3.4-8.6 10.3-16 13.7-5 3.8-9 5.6z"/>
<path fill="#ff7000" d="M294 267.2l57.6 0-8 5.9-10.5 9.4-3.1 3.3-6.4 8.4-2.9 3-8.7 6.8-9.3 8.2-8.7 5.9z"/>
<path fill="#ff5000" d="M294 267.2l51.3 0-4.7 3.4-9.5 8.6-4 4.5-5.4 7.5-2.8 3-9.9 7.7-9 8.3-6 4.3z"/>
<path fill="#ff3000" d="M294 267.2l44.5 0-11.5 10.2-7.5 10-3 3.4-10.5 8.1-7.5 7.8-4.5 3.7z"/>
<path fill="#ff1800" d="M294 267.2l37 0-8.6 7.5-6.8 9-2.7 3-11.4 8.9-7.5 9.4z"/>
<path fill="#ff0000" d="M294 267.2l27.2 0-3.2 1.9-3 2.6-7.5 9.2-9.7 7.3-2.3 3-1.5 3.2z"/>
<path d="M394.2 330.9 400.7 324.3 407.3 320.5 414.9 317.8 422.5 315.1 426.9 318.4 427.9 321.1 425.8 324.3 421.4 328.7 417.1 331.4 411.6 333.1 406.2 335.2 399.6 335.2 394.7 333.1 394.2 330.9" fill="none" stroke="#333" stroke-width="0.8" stroke-dasharray="1.8 1.1"/>
<ellipse cx="340.8" cy="307.7" rx="1.9" ry="1.0" fill="none" stroke="#222" stroke-width="0.9" stroke-dasharray="1.8 0.7"/>
<ellipse cx="340.0" cy="315.4" rx="3.5" ry="1.1" fill="none" stroke="#222" stroke-width="0.9" stroke-dasharray="1.8 0.7"/>
<ellipse cx="349.3" cy="312.1" rx="1.4" ry="0.5" fill="none" stroke="#222" stroke-width="0.9" stroke-dasharray="1.8 0.7"/>
<ellipse cx="362.9" cy="320.8" rx="2.5" ry="1.0" fill="none" stroke="#222" stroke-width="0.9" stroke-dasharray="1.8 0.7"/>
<ellipse cx="343.0" cy="319.7" rx="0.8" ry="0.5" fill="none" stroke="#222" stroke-width="0.9" stroke-dasharray="1.8 0.7"/>
<ellipse cx="346.3" cy="302.3" rx="1.9" ry="0.8" fill="none" stroke="#222" stroke-width="0.9" stroke-dasharray="1.8 0.7"/>
<path d="M353.9 292.8q2.4 -0.6 2.6 1.5q-0.4 1.8 -2.4 1.6" fill="none" stroke="#222" stroke-width="0.8" stroke-dasharray="1.5 0.6"/>
<path d="M503.6 342.0v2h2.2v-1.2h-1.4" fill="none" stroke="#333" stroke-width="0.6"/>
<ellipse cx="419.2" cy="460.4" rx="1.4" ry="0.5" fill="none" stroke="#444" stroke-width="0.5" stroke-dasharray="0.8 0.8"/>
<ellipse cx="432.8" cy="465.9" rx="1.6" ry="0.8" fill="none" stroke="#444" stroke-width="0.5" stroke-dasharray="0.8 0.8"/>
<ellipse cx="446.5" cy="459.0" rx="1.1" ry="0.5" fill="none" stroke="#444" stroke-width="0.5" stroke-dasharray="0.8 0.8"/>
<ellipse cx="457.4" cy="468.6" rx="1.4" ry="0.5" fill="none" stroke="#444" stroke-width="0.5" stroke-dasharray="0.8 0.8"/>
<ellipse cx="465.5" cy="475.4" rx="2.2" ry="0.8" fill="none" stroke="#444" stroke-width="0.5" stroke-dasharray="0.8 0.8"/>
<ellipse cx="438.3" cy="476.7" rx="1.1" ry="0.5" fill="none" stroke="#444" stroke-width="0.5" stroke-dasharray="0.8 0.8"/>
<ellipse cx="476.4" cy="460.4" rx="1.4" ry="0.8" fill="none" stroke="#444" stroke-width="0.5" stroke-dasharray="0.8 0.8"/>
<ellipse cx="427.4" cy="472.7" rx="0.8" ry="0.5" fill="none" stroke="#444" stroke-width="0.5" stroke-dasharray="0.8 0.8"/>
<ellipse cx="490.0" cy="469.9" rx="1.6" ry="0.8" fill="none" stroke="#444" stroke-width="0.5" stroke-dasharray="0.8 0.8"/>
<ellipse cx="471.0" cy="455.0" rx="1.1" ry="0.5" fill="none" stroke="#444" stroke-width="0.5" stroke-dasharray="0.8 0.8"/>
<path d="M302.2 414.1L300.0 430.5L297.3 446.8" fill="none" stroke="#445" stroke-width="0.6" opacity="0.7"/>
<rect x="452.7" y="400.3" width="61.1" height="86.6" fill="#fff" fill-opacity="0.05" stroke="#000" stroke-opacity="0.05" stroke-width="0.6"/>
<g fill="#000"><circle cx="334.8" cy="291.7" r="0.8"/><circle cx="328.0" cy="294.4" r="0.8"/><circle cx="334.8" cy="301.2" r="0.8"/><circle cx="341.6" cy="301.2" r="3.4"/><circle cx="348.4" cy="301.2" r="3.4"/><circle cx="416.5" cy="308.0" r="3.4"/><circle cx="348.4" cy="328.4" r="0.8"/><circle cx="355.3" cy="328.4" r="0.8"/><circle cx="362.1" cy="328.4" r="0.8"/><circle cx="355.3" cy="376.0" r="0.8"/><circle cx="341.6" cy="382.9" r="0.8"/><circle cx="355.3" cy="382.9" r="3.4"/><circle cx="341.6" cy="396.5" r="0.8"/><circle cx="348.4" cy="396.5" r="2.2"/><circle cx="362.1" cy="396.5" r="2.2"/><circle cx="341.6" cy="403.3" r="3.4"/><circle cx="328.0" cy="410.1" r="2.2"/><circle cx="334.8" cy="410.1" r="3.4"/><circle cx="341.6" cy="410.1" r="0.8"/><circle cx="348.4" cy="410.1" r="2.2"/><circle cx="355.3" cy="410.1" r="2.2"/><circle cx="334.8" cy="416.9" r="3.4"/><circle cx="341.6" cy="416.9" r="3.4"/><circle cx="348.4" cy="416.9" r="0.8"/><circle cx="375.7" cy="423.7" r="0.8"/></g>
</g>
<text x="447.8" y="284.8" font-size="13.3" textLength="55.5" lengthAdjust="spacingAndGlyphs">Early July</text>
<text x="361.4" y="300.7" font-size="10.5" textLength="59.4" lengthAdjust="spacingAndGlyphs">Xisha Islands</text>
<text x="420" y="342.3" font-size="10.5" textLength="79.3" lengthAdjust="spacingAndGlyphs">Zhongsha Islands</text>
<text x="458.4" y="414.5" font-size="12" textLength="44.6" lengthAdjust="spacingAndGlyphs">Catch(t)</text>
<text x="470.5" y="431.1" font-size="12">0 ~ 1</text>
<text x="470.5" y="446.1" font-size="12">1 ~ 2</text>
<text x="470.5" y="461.4" font-size="12">2 ~ 5</text>
<text x="470.5" y="476.8" font-size="12" textLength="37.3" lengthAdjust="spacingAndGlyphs">5 ~ 100</text>
<circle cx="456.4" cy="427.3" r="0.9"/>
<circle cx="456.4" cy="442.3" r="1.6"/>
<circle cx="456.4" cy="457.6" r="2.4"/>
<circle cx="456.4" cy="473.0" r="3.4"/>
<rect x="294" y="267.2" width="217.8" height="217.7" fill="none" stroke="#222" stroke-width="1"/>
<path d="M294.0 484.9v2.5M294.0 267.2h-2.5M321.2 484.9v2.5M294.0 294.4h-2.5M348.4 484.9v2.5M294.0 321.6h-2.5M375.7 484.9v2.5M294.0 348.8h-2.5M402.9 484.9v2.5M294.0 376.0h-2.5M430.1 484.9v2.5M294.0 403.3h-2.5M457.4 484.9v2.5M294.0 430.5h-2.5M484.6 484.9v2.5M294.0 457.7h-2.5M511.8 484.9v2.5M294.0 484.9h-2.5" stroke="#222" stroke-width="1" fill="none"/>
<rect x="515.3" y="474.17" width="11.80" height="8.33" fill="#9966ee"/>
<rect x="515.3" y="466.15" width="11.80" height="8.33" fill="#7048f0"/>
<rect x="515.3" y="458.12" width="11.80" height="8.33" fill="#4a30f0"/>
<rect x="515.3" y="450.09" width="11.80" height="8.33" fill="#4a30f0"/>
<rect x="515.3" y="442.07" width="11.80" height="8.33" fill="#2010f8"/>
<rect x="515.3" y="434.04" width="11.80" height="8.33" fill="#0000ff"/>
<rect x="515.3" y="426.01" width="11.80" height="8.33" fill="#1048b0"/>
<rect x="515.3" y="417.98" width="11.80" height="8.33" fill="#087878"/>
<rect x="515.3" y="409.96" width="11.80" height="8.33" fill="#087878"/>
<rect x="515.3" y="401.93" width="11.80" height="8.33" fill="#00a850"/>
<rect x="515.3" y="393.90" width="11.80" height="8.33" fill="#00ff00"/>
<rect x="515.3" y="385.88" width="11.80" height="8.33" fill="#50ff00"/>
<rect x="515.3" y="377.85" width="11.80" height="8.33" fill="#90ff00"/>
<rect x="515.3" y="369.82" width="11.80" height="8.33" fill="#90ff00"/>
<rect x="515.3" y="361.80" width="11.80" height="8.33" fill="#c8ff00"/>
<rect x="515.3" y="353.77" width="11.80" height="8.33" fill="#ffff00"/>
<rect x="515.3" y="345.74" width="11.80" height="8.33" fill="#ffcc00"/>
<rect x="515.3" y="337.72" width="11.80" height="8.33" fill="#ffaa00"/>
<rect x="515.3" y="329.69" width="11.80" height="8.33" fill="#ffaa00"/>
<rect x="515.3" y="321.66" width="11.80" height="8.33" fill="#ff9000"/>
<rect x="515.3" y="313.63" width="11.80" height="8.33" fill="#ff7000"/>
<rect x="515.3" y="305.61" width="11.80" height="8.33" fill="#ff5000"/>
<rect x="515.3" y="297.58" width="11.80" height="8.33" fill="#ff3000"/>
<rect x="515.3" y="289.55" width="11.80" height="8.33" fill="#ff3000"/>
<rect x="515.3" y="281.53" width="11.80" height="8.33" fill="#ff1800"/>
<rect x="515.3" y="273.50" width="11.80" height="8.33" fill="#ff0000"/>
<text x="529.8" y="292.9" font-size="9">31.1</text>
<text x="529.8" y="308.8" font-size="9">30.9</text>
<text x="529.8" y="324.8" font-size="9">30.7</text>
<text x="529.8" y="340.8" font-size="9">30.5</text>
<text x="529.8" y="356.8" font-size="9">30.3</text>
<text x="529.8" y="372.8" font-size="9">30.1</text>
<text x="529.8" y="388.8" font-size="9">29.9</text>
<text x="529.8" y="404.7" font-size="9">29.7</text>
<text x="529.8" y="420.7" font-size="9">29.5</text>
<text x="529.8" y="436.7" font-size="9">29.3</text>
<text x="529.8" y="452.7" font-size="9">29.1</text>
<text x="529.8" y="468.7" font-size="9">28.9</text>
<text x="529.8" y="484.7" font-size="9">28.7</text>
<text x="514.9" y="271.1" font-size="10" textLength="32.4" lengthAdjust="spacingAndGlyphs">SST/°C</text>
<clipPath id="c5"><rect x="24" y="511.5" width="219.3" height="217.2"/></clipPath>
<g clip-path="url(#c5)">
<rect x="24" y="511.5" width="219.3" height="217.2" fill="#2010f8"/>
<path fill="#0000ff" d="M24 511.5l219.3 0 0 217.2-219.3 0 0-27.1 10.5-11 4.8-4.1 .9-1.5-.1-1.6-1.1-1.1-1.5-.4-1.5 .2-6 2.5-6 1.2z"/>
<path fill="#1048b0" d="M24 511.5l219.3 0 0 217.2-219.3 0 0-9.7 24 .1 10.8-1 4.3-1.4 2-1.6 1.8-3 .4-3-1.2-5.5-5-9.6-3.7-9-3.2-4.6-4-3-2.7-1.5-4-1.3-3-.4-3 .2-4.5 1.9-6 4.7-3 1.8z"/>
<path fill="#087878" d="M24 511.5l219.3 0 0 217.2-219.3 0 0-5.6 34.5-.2 6.1-.6 4-1.1 2.8-1.5 2.6-3.1 1.2-3 .4-4.5-1.5-13.6-1.5-6-6.4-13.6-1.6-2-1.5-.9-3.1-.7-7.5-.5-7.5-1-4.5-.2-3 .4-3 .9-3 1.7-7.5 6.7z"/>
<path fill="#00a850" d="M24 511.5l219.3 0 0 217.2-219.3 0 0-2.9 43.6 0 6-.9 5.1-2.2 2.9-3 1.2-3.1 .4-4.5-.4-10.5 2.4-13.6-.8-4.6-4.8-7.5-3.3-7.5-2.8-3-4.4-1.8-3-.2-2.8 .4-10.8 3.2-12 .7-4.5 .9-3 1.2-3 2-6 6.2z"/>
<path fill="#00ff00" d="M24 511.5l219.3 0 0 217.2-164.5 0 5.3-1.1 3-1.2 2.9-2.2 1.1-1.5 1-3 .4-3.1-.2-13.5 1.5-4.6 2.3-3.5 3-3 3-2.1 7-3.4 1.7-1.5 .9-1.6 .7-3-.2-3-.9-3-1.7-2.4-1.5-1.2-3-1.4-13.5-1.6-3-1.4-6.5-4.1-5.5-2.2-4.5-1.1-6-.4-4.5 .7-10.6 3.8-12 2-4.5 1.3-3 1.5-2.6 2-4.9 5.7zM24 728.7l0-.9 22.5-.1 18.7 1z"/>
<path fill="#50ff00" d="M24 511.5l219.3 0 0 217.2-137.1 0-1.1-1.5-.6-1.5-.3-3 .8-4.6 1.2-3 3.6-4.5 10.3-9.2 4.2-4.4 2.8-4.5 1.4-4.5-.4-3-.7-1.6-5.8-6.4-4.1-7.1-2.8-3-5.1-2.3-13.5-2.6-10.5-3.6-6-1.6-9-1.6-6-.2-7 1.3-8.3 3-11.8 3.2-4.5 1.8-4.5 3-4.5 5.8z"/>
<path fill="#90ff00" d="M24 513l0-.7 2.4-.8 216.9 0 0 217.2-82.3 0-3.3-1-6-1.1-1.5-2.6-2.8-8.9-1.2-4.5-.4-4.5 .7-3 2-3.1 10.4-9 1.8-2.4 .9-2.1 .3-3.1-.8-9 1.2-7.5 .2-3.1-.3-1.5-1.2-1.5-1.8-.6-3 .1-4.5 1.1-3-.2-3-1.3-5-3.6-2.9-1.5-4.7-1.5-5.5-1-4.5-.1-3 .4-9.3 3.7-5.7 .8-6-.5-27-4.6-6-.5-4.5 0-6.1 .8-4.5 1.3-16.5 6.7-3 1.6-3 2.2-2.4 2.8-2.1 3.2zM205.7 686.2l-1.5 .4-2 1.4-.9 1.5-.4 3 1.3 9.1-.3 10.5 .3 3 .6 1.5 1.4 1.3 1.5 .4 3.1-.4 4.5-1.6 6-2.9 4.3-2.8 3.2-2.7 1.5-1.8 1.3-3 0-1.5-1.2-3.1-2.3-3-3.8-3.5-3-2.2-3-1.7-4.5-1.5-3-.5z"/>
<path fill="#c8ff00" d="M27.8 513l5.1-1.5 141.9 0-2.4 1.5-1.5 1.5-.8 1.5-.3 1.5 .6 3.1 2.3 3 2.1 1.5 3.9 1.4 3 .4 4.5-.7 3-1.6 9.4-8.6 3.6-4.5 41.1 0 0 135.7-3-.4-1.6-1.1-2.9-.5-1.7 .5-1.3 1-4.5 .6-22.6-.3-12 1.4-3-.3-3-1.3-3-2.2-6-5.7-2-2.2-1.9-3-1-3-.4-4.6 .4-3 2.6-9-.2-4.6-1.5-3-2-1.5-4.5-.5-4.5 1-4.5 2.2-4 3.4-6 6-1.8 3-.3 1.5 .9 7.6-.2 3-.5 1.5-1.1 1.5-2.4 1.5-15.5 4.5-14 3-10.7 4.1-6 1.5-6 .4-7.5-.3-24.1-3.1-6 .1-6 1-6 2.2-7.5 5-6 5-3 3.7-1.5 2.6 0-152.5zM199.7 545.9l-4.5 1.8-4.5 2.9-6 4.6-2.1 3.1-1 3-.3 4.5 .6 4.5 1.5 4.5 2.8 3.3 1.5 1 3 .9 3 .1 9-.7 9.1 .6 3-.3 3-1.2 3-2.2 3-3.1 4.8-5.9 1.8-3 1.2-4.5-.2-3-1-3.1-2-3-1.8-1.5-2.8-1.6-4.2-1.4-4.8-.9-6-.3-4.6 .1zM232 648.8l.8-.8 4.5-.2 1.5 .3 1.5 1.1 1.5 3.4 1.1 5.2 .4 3 0 7.3-.9-1.2-6.1-1.5-3.5-1.5-2-1.6-1.2-1.5-.8-3 .2-3 .9-3 1.4-2.5zM243.2 675.9l.1 12.1-.9-1.5-.2-1.5z"/>
<path fill="#ffff00" d="M37.7 513l6.7-1.5 116.6 0-2 1.5-1.1 1.5-.5 1.5-.1 1.5 .8 3.1 1.8 3 3.8 4.5 10.2 9 .9 1.5 .1 1.6-.6 1.5-1.2 1.5-10.7 7.5-2.1 3-.4 3.1 1.3 10.5-.3 10.6 2.1 10.5-.8 3-1.1 1.6-1.9 1.5-4.5 2.5-4.5 1.9-6 1.6-10.6 1.4-3.2 1.6-2.3 3-.9 3-1.2 12.1-.8 4.5-1.2 3.1-2.4 3.2-1.7 1.3-2.8 1.3-10.5 3.4-10.5 4.3-4.5 1.4-4.5 .6-4.5 .1-5-.6-5-1.5-8-3.3-4.6-.8-15 .6-7.5 1.1-3 1.2-3 2.7-7.5 16.6 0-145 6-.9zM63.1 598.7l-1.5 .7-1.1 1.1-.7 1.5 .2 1.7 1 1.3 2.1 1.2 3 .2 1.5-.6 .9-.8 .6-1.5-.2-1.5-.9-1.5-1.9-1.6zM243.3 579.4l0 27.1-.6-4.5 .6-10.6-1.5-9 .4-1.5zM216.1 620.1l3.2 .5 1.8 1 1.3 1.5 .6 3-.6 3.1-1.6 2.4-1.5 1.3-3 .8-3-1.3-1.5-1.6-.9-1.6-.7-3.1 .5-3 1.1-1.4 1.5-.9z"/>
<path fill="#ffcc00" d="M53.6 513l3.7-1.5 84.4 0-.3 4.5-.7 3-1.1 3.1-2.1 3-3.9 3.5-10.5 7-3.2 3-.7 1.6-.4 3 1.3 6-.1 3-1.4 1.5-1.5 .9-9 3.3-3 1.5-4.1 3.4-2 3-.9 3 0 1.5 1.1 3 1.4 1.7 7.2 5.9 2 3 1 3 1 9.1 .7 16.6-.2 4.5-1.4 4.5-2.8 3.4-9.2 5.7-7.3 3.3-4.5 .9-4.5-.2-13.5-4.7-7.5-1.5-9.1-.7-13.5-.2-6-.6-3.2-.9-2.9-1.5-1.5-1.5-1.4-3 .2-3 1.3-.9 1.5-.3 21-1.3 13.6 .3 7.5-.8 3-.8 3-1.3 1.5-1.2 1.8-2.8 .5-3-.5-3-1.1-3-2.2-4.2-2.5-3.4-1.8-1.5-1.7-.8-3-.5-3 .2-4.6 1.1-12 5.2-15 4.4-4.5 2.7-1.5 1.7-1.5 2.6 0-88.6 6-.1 4.5-.5zM142.8 564.3l1.4-.2 1.5 .3 1.5 1.2 .9 1.7 .8 3-.1 4.5-.9 3.1-.7 1.8-1.1 1.2-1.9 .9-1.5-.2-1.5-1.2-1.3-2.5-.5-3.1 .1-4.5 .8-3 .9-1.8z"/>
<path fill="#ffaa00" d="M89.2 513l3.4-1.5 18.5 .3 15.4-.3 2.6 1.1 .9 1.9-.1 1.5-1.6 3-2.2 2.4-2.9 2.2-3.1 1.4-3 .8-4.5 .2-9-1.3-4.5 0-12 .9-4.5 1.1-1.5 1.4-1.5 5.1-1.5 13 .1 4.5 1.4 2.3 1.5 .6 1.5-.2 4.5-1.7 3-.3 1.5 .3 .8 .5 0 1.5-.8 1.1-2.5 2-5 2.7-1.5 1.4-3.8 4.9-8 9-4.7 4-8.4 3.6-15.7 4.5-4.5 1.7-7.5 3.8-6 3.9 0-76 6 1.2 6 .3 13.5-2.1 4.5 0 4.5 1.3 6.1 3.8 3 1.2 3 .6 3-.1 3-.5 3-1.4 4.5-7.1 2.9-3zM88.4 586.9l1.7-.5 3-.2 2.7 .7 1.8 1 1.5 1.3 1.5 2.2 1.4 4.6 0 7.5-1.6 6-1.3 2.3-1.5 1.7-1.5 1.1-3 1.1-3.1-.1-1.4-.9-1.2-2.1-3.6-16.6-.2-3 1.1-3.1 1.3-1.5z"/>
<path fill="#ff9000" d="M24 523.6l0-.3 9 4.2 10.5 4.2 3.9 2.4 3.6 4 3.6 5.1 1.3 3 .8 4.5-.2 3-1.3 4.6-5.9 12-2.2 3-3.8 3.1-10.3 5.9-9 7.5z"/>
<path fill="#ff7000" d="M24 528.1l0-.9 7.5 6.7 11.7 9.3 3.3 4.5 1.2 4.5-.3 3-1 3.1-1.5 3-2.9 4.2-4.5 4.8-9 7.6-4.5 5.3z"/>
<path fill="#ff5000" d="M24 534.1l0-.7 4.5 5.6 7.7 5.7 2.8 2.8 1.8 3.2 .4 3-1.3 4.6-2.4 3.4-3 3-7.5 5.7-3 3.6z"/>
<path fill="#ff3000" d="M25.4 547.7l1.6-.1 3 1.2 2.3 1.9 .8 1.5 .2 1.5-.3 1.5-1.5 2.1-1.5 1.1-1.5 .5-1.5-.1-1.5-1.1-.5-.9-.8-3.1-.2-3.1 .3-1.4z"/>
<path d="M124.9 575.0 131.5 568.5 138.0 564.7 145.7 562.0 153.4 559.3 157.8 562.5 158.9 565.3 156.7 568.5 152.3 572.9 147.9 575.6 142.4 577.2 136.9 579.4 130.4 579.4 125.4 577.2 124.9 575.0" fill="none" stroke="#333" stroke-width="0.8" stroke-dasharray="1.8 1.1"/>
<ellipse cx="71.1" cy="552.0" rx="1.9" ry="1.0" fill="none" stroke="#222" stroke-width="0.9" stroke-dasharray="1.8 0.7"/>
<ellipse cx="70.3" cy="559.6" rx="3.6" ry="1.1" fill="none" stroke="#222" stroke-width="0.9" stroke-dasharray="1.8 0.7"/>
<ellipse cx="79.6" cy="556.3" rx="1.4" ry="0.5" fill="none" stroke="#222" stroke-width="0.9" stroke-dasharray="1.8 0.7"/>
<ellipse cx="93.4" cy="565.0" rx="2.5" ry="1.0" fill="none" stroke="#222" stroke-width="0.9" stroke-dasharray="1.8 0.7"/>
<ellipse cx="73.3" cy="563.9" rx="0.8" ry="0.5" fill="none" stroke="#222" stroke-width="0.9" stroke-dasharray="1.8 0.7"/>
<ellipse cx="76.6" cy="546.5" rx="1.9" ry="0.8" fill="none" stroke="#222" stroke-width="0.9" stroke-dasharray="1.8 0.7"/>
<path d="M84.3 537.0q2.4 -0.6 2.6 1.5q-0.4 1.8 -2.4 1.6" fill="none" stroke="#222" stroke-width="0.8" stroke-dasharray="1.5 0.6"/>
<path d="M235.1 586.2v2h2.2v-1.2h-1.4" fill="none" stroke="#333" stroke-width="0.6"/>
<ellipse cx="150.1" cy="704.3" rx="1.4" ry="0.5" fill="none" stroke="#444" stroke-width="0.5" stroke-dasharray="0.8 0.8"/>
<ellipse cx="163.8" cy="709.7" rx="1.6" ry="0.8" fill="none" stroke="#444" stroke-width="0.5" stroke-dasharray="0.8 0.8"/>
<ellipse cx="177.5" cy="702.9" rx="1.1" ry="0.5" fill="none" stroke="#444" stroke-width="0.5" stroke-dasharray="0.8 0.8"/>
<ellipse cx="188.5" cy="712.4" rx="1.4" ry="0.5" fill="none" stroke="#444" stroke-width="0.5" stroke-dasharray="0.8 0.8"/>
<ellipse cx="196.7" cy="719.2" rx="2.2" ry="0.8" fill="none" stroke="#444" stroke-width="0.5" stroke-dasharray="0.8 0.8"/>
<ellipse cx="169.3" cy="720.6" rx="1.1" ry="0.5" fill="none" stroke="#444" stroke-width="0.5" stroke-dasharray="0.8 0.8"/>
<ellipse cx="207.7" cy="704.3" rx="1.4" ry="0.8" fill="none" stroke="#444" stroke-width="0.5" stroke-dasharray="0.8 0.8"/>
<ellipse cx="158.3" cy="716.5" rx="0.8" ry="0.5" fill="none" stroke="#444" stroke-width="0.5" stroke-dasharray="0.8 0.8"/>
<ellipse cx="221.4" cy="713.8" rx="1.6" ry="0.8" fill="none" stroke="#444" stroke-width="0.5" stroke-dasharray="0.8 0.8"/>
<ellipse cx="202.2" cy="698.8" rx="1.1" ry="0.5" fill="none" stroke="#444" stroke-width="0.5" stroke-dasharray="0.8 0.8"/>
<path d="M32.2 658.1L30.0 674.4L27.3 690.7" fill="none" stroke="#445" stroke-width="0.6" opacity="0.7"/>
<rect x="186.9" y="645.1" width="58.4" height="85.6" fill="#fff" fill-opacity="0.05" stroke="#000" stroke-opacity="0.05" stroke-width="0.6"/>
<g fill="#000"><circle cx="58.3" cy="538.6" r="3.4"/><circle cx="65.1" cy="538.6" r="0.8"/><circle cx="72.0" cy="538.6" r="3.4"/><circle cx="51.4" cy="545.4" r="3.4"/><circle cx="58.3" cy="545.4" r="3.4"/><circle cx="65.1" cy="545.4" r="3.4"/><circle cx="72.0" cy="545.4" r="3.4"/><circle cx="78.8" cy="545.4" r="2.2"/><circle cx="51.4" cy="552.2" r="3.4"/><circle cx="58.3" cy="552.2" r="0.8"/><circle cx="65.1" cy="552.2" r="2.2"/><circle cx="72.0" cy="552.2" r="0.8"/><circle cx="78.8" cy="552.2" r="1.5"/><circle cx="51.4" cy="559.0" r="0.8"/><circle cx="78.8" cy="559.0" r="0.8"/><circle cx="85.7" cy="559.0" r="1.5"/><circle cx="92.5" cy="559.0" r="3.4"/><circle cx="99.4" cy="559.0" r="0.8"/><circle cx="133.7" cy="559.0" r="0.8"/><circle cx="140.5" cy="559.0" r="3.4"/><circle cx="147.4" cy="559.0" r="3.4"/><circle cx="72.0" cy="565.8" r="0.8"/><circle cx="78.8" cy="565.8" r="3.4"/><circle cx="92.5" cy="565.8" r="3.4"/><circle cx="99.4" cy="565.8" r="2.2"/><circle cx="126.8" cy="565.8" r="3.4"/><circle cx="133.7" cy="565.8" r="3.4"/><circle cx="58.3" cy="572.6" r="0.8"/><circle cx="65.1" cy="572.6" r="0.8"/><circle cx="72.0" cy="572.6" r="3.4"/><circle cx="78.8" cy="572.6" r="3.4"/><circle cx="85.7" cy="572.6" r="3.4"/><circle cx="92.5" cy="572.6" r="3.4"/><circle cx="99.4" cy="572.6" r="3.4"/><circle cx="126.8" cy="572.6" r="2.2"/><circle cx="51.4" cy="579.4" r="0.8"/><circle cx="58.3" cy="579.4" r="3.4"/><circle cx="65.1" cy="579.4" r="3.4"/><circle cx="72.0" cy="579.4" r="1.5"/><circle cx="78.8" cy="579.4" r="3.4"/><circle cx="85.7" cy="579.4" r="3.4"/><circle cx="92.5" cy="579.4" r="1.5"/><circle cx="126.8" cy="579.4" r="2.2"/><circle cx="58.3" cy="586.2" r="3.4"/><circle cx="65.1" cy="586.2" r="3.4"/><circle cx="72.0" cy="586.2" r="0.8"/><circle cx="78.8" cy="586.2" r="3.4"/><circle cx="85.7" cy="586.2" r="3.4"/><circle cx="72.0" cy="593.0" r="0.8"/><circle cx="78.8" cy="593.0" r="0.8"/><circle cx="65.1" cy="599.7" r="0.8"/><circle cx="92.5" cy="613.3" r="0.8"/><circle cx="65.1" cy="620.1" r="0.8"/><circle cx="72.0" cy="620.1" r="0.8"/><circle cx="65.1" cy="626.9" r="3.4"/><circle cx="72.0" cy="626.9" r="3.4"/><circle cx="65.1" cy="633.7" r="0.8"/><circle cx="78.8" cy="633.7" r="2.2"/><circle cx="65.1" cy="640.5" r="2.2"/><circle cx="85.7" cy="647.2" r="3.4"/><circle cx="92.5" cy="647.2" r="1.5"/></g>
</g>
<text x="175.4" y="529" font-size="13.3" textLength="66.5" lengthAdjust="spacingAndGlyphs">Middle June</text>
<text x="92" y="543.8" font-size="10.5" textLength="60" lengthAdjust="spacingAndGlyphs">Xisha Islands</text>
<text x="151.2" y="586.2" font-size="10.5" textLength="80" lengthAdjust="spacingAndGlyphs">Zhongsha Islands</text>
<text x="192.6" y="659.3" font-size="12" textLength="44" lengthAdjust="spacingAndGlyphs">Catch(t)</text>
<text x="207.7" y="675.9" font-size="12">0 ~ 1</text>
<text x="207.7" y="691.1" font-size="12">1 ~ 2</text>
<text x="207.7" y="706.5" font-size="12">2 ~ 5</text>
<text x="207.7" y="721.8" font-size="12" textLength="31.3" lengthAdjust="spacingAndGlyphs">5 ~ 50</text>
<circle cx="194.2" cy="672.1" r="0.9"/>
<circle cx="194.2" cy="687.3" r="1.6"/>
<circle cx="194.2" cy="702.7" r="2.4"/>
<circle cx="194.2" cy="718.0" r="3.4"/>
<rect x="24" y="511.5" width="219.3" height="217.2" fill="none" stroke="#222" stroke-width="1"/>
<path d="M24.0 728.7v2.5M24.0 511.5h-2.5M51.4 728.7v2.5M24.0 538.6h-2.5M78.8 728.7v2.5M24.0 565.8h-2.5M106.2 728.7v2.5M24.0 593.0h-2.5M133.7 728.7v2.5M24.0 620.1h-2.5M161.1 728.7v2.5M24.0 647.2h-2.5M188.5 728.7v2.5M24.0 674.4h-2.5M215.9 728.7v2.5M24.0 701.6h-2.5M243.3 728.7v2.5M24.0 728.7h-2.5" stroke="#222" stroke-width="1" fill="none"/>
<rect x="246.4" y="720.09" width="12.70" height="7.51" fill="#9966ee"/>
<rect x="246.4" y="712.88" width="12.70" height="7.51" fill="#7048f0"/>
<rect x="246.4" y="705.67" width="12.70" height="7.51" fill="#7048f0"/>
<rect x="246.4" y="698.46" width="12.70" height="7.51" fill="#4a30f0"/>
<rect x="246.4" y="691.25" width="12.70" height="7.51" fill="#2010f8"/>
<rect x="246.4" y="684.04" width="12.70" height="7.51" fill="#0000ff"/>
<rect x="246.4" y="676.83" width="12.70" height="7.51" fill="#0000ff"/>
<rect x="246.4" y="669.62" width="12.70" height="7.51" fill="#1048b0"/>
<rect x="246.4" y="662.41" width="12.70" height="7.51" fill="#087878"/>
<rect x="246.4" y="655.20" width="12.70" height="7.51" fill="#087878"/>
<rect x="246.4" y="647.99" width="12.70" height="7.51" fill="#00a850"/>
<rect x="246.4" y="640.78" width="12.70" height="7.51" fill="#00ff00"/>
<rect x="246.4" y="633.57" width="12.70" height="7.51" fill="#50ff00"/>
<rect x="246.4" y="626.36" width="12.70" height="7.51" fill="#50ff00"/>
<rect x="246.4" y="619.14" width="12.70" height="7.51" fill="#90ff00"/>
<rect x="246.4" y="611.93" width="12.70" height="7.51" fill="#c8ff00"/>
<rect x="246.4" y="604.72" width="12.70" height="7.51" fill="#c8ff00"/>
<rect x="246.4" y="597.51" width="12.70" height="7.51" fill="#ffff00"/>
<rect x="246.4" y="590.30" width="12.70" height="7.51" fill="#ffcc00"/>
<rect x="246.4" y="583.09" width="12.70" height="7.51" fill="#ffaa00"/>
<rect x="246.4" y="575.88" width="12.70" height="7.51" fill="#ffaa00"/>
<rect x="246.4" y="568.67" width="12.70" height="7.51" fill="#ff9000"/>
<rect x="246.4" y="561.46" width="12.70" height="7.51" fill="#ff7000"/>
<rect x="246.4" y="554.25" width="12.70" height="7.51" fill="#ff7000"/>
<rect x="246.4" y="547.04" width="12.70" height="7.51" fill="#ff5000"/>
<rect x="246.4" y="539.83" width="12.70" height="7.51" fill="#ff3000"/>
<rect x="246.4" y="532.62" width="12.70" height="7.51" fill="#ff1800"/>
<rect x="246.4" y="525.41" width="12.70" height="7.51" fill="#ff1800"/>
<rect x="246.4" y="518.20" width="12.70" height="7.51" fill="#ff0000"/>
<text x="261.8" y="528.0" font-size="9.5">30.7</text>
<text x="261.8" y="542.5" font-size="9.5">30.5</text>
<text x="261.8" y="557.0" font-size="9.5">30.3</text>
<text x="261.8" y="571.6" font-size="9.5">30.1</text>
<text x="261.8" y="586.1" font-size="9.5">29.9</text>
<text x="261.8" y="600.6" font-size="9.5">29.7</text>
<text x="261.8" y="615.1" font-size="9.5">29.5</text>
<text x="261.8" y="629.6" font-size="9.5">29.3</text>
<text x="261.8" y="644.1" font-size="9.5">29.1</text>
<text x="261.8" y="658.6" font-size="9.5">28.9</text>
<text x="261.8" y="673.1" font-size="9.5">28.7</text>
<text x="261.8" y="687.6" font-size="9.5">28.5</text>
<text x="261.8" y="702.1" font-size="9.5">28.3</text>
<text x="261.8" y="716.6" font-size="9.5">28.1</text>
<text x="261.8" y="731.1" font-size="9.5">27.9</text>
<text x="245.8" y="514.8" font-size="10" textLength="32.4" lengthAdjust="spacingAndGlyphs">SST/°C</text>
<text x="21.1" y="515.3" font-size="13" text-anchor="end">18°</text>
<text x="21.1" y="542.4" font-size="13" text-anchor="end">17°</text>
<text x="21.1" y="569.6" font-size="13" text-anchor="end">16°</text>
<text x="21.1" y="596.8" font-size="13" text-anchor="end">15°</text>
<text x="21.1" y="623.9" font-size="13" text-anchor="end">14°</text>
<text x="21.1" y="651.0" font-size="13" text-anchor="end">13°</text>
<text x="21.1" y="678.2" font-size="13" text-anchor="end">12°</text>
<text x="21.1" y="705.4" font-size="13" text-anchor="end">11°</text>
<text x="21.1" y="732.5" font-size="13" text-anchor="end">10°</text>
<text x="12.3" y="500" font-size="13" text-anchor="middle">N</text>
<text x="26.4" y="743.9" font-size="12.6" text-anchor="middle">110°</text>
<text x="53.8" y="743.9" font-size="12.6" text-anchor="middle">111°</text>
<text x="81.2" y="743.9" font-size="12.6" text-anchor="middle">112°</text>
<text x="108.6" y="743.9" font-size="12.6" text-anchor="middle">113°</text>
<text x="136.1" y="743.9" font-size="12.6" text-anchor="middle">114°</text>
<text x="163.5" y="743.9" font-size="12.6" text-anchor="middle">115°</text>
<text x="190.9" y="743.9" font-size="12.6" text-anchor="middle">116°</text>
<text x="218.3" y="743.9" font-size="12.6" text-anchor="middle">117°</text>
<text x="245.7" y="743.9" font-size="12.6" text-anchor="middle">118°</text>
<text x="259.5" y="743.9" font-size="12.6">E</text>
<clipPath id="c6"><rect x="293.2" y="510.8" width="218.6" height="218.2"/></clipPath>
<g clip-path="url(#c6)">
<rect x="293.2" y="510.8" width="218.6" height="218.2" fill="#7048f0"/>
<path fill="#4a30f0" d="M293.2 510.8l218.6 0 0 218.2-218.6 0zM309.8 673l-3.4 1.8-2.6 3-.3 1.5 .3 .7 .4 .8 1.1 .7 1.5 .5 3 .2 4.5-.7 4.5-1.9 2-1.8 .5-1.5-.5-1.5-2-1.5-4.5-.9z"/>
<path fill="#2010f8" d="M293.2 510.8l218.6 0 0 218.2-33.1 0 .4-3-.5-1.9-1.5-1.5-3-.6-4.5 .4-3 1.1-1.5 1-1.4 1.5-1 3-26 0 .3-3-.8-1.5-1.3-.8-6-1.7-7.6-1-4.5 .5-2.7 1.5-1.8 2.1-1.5 3.9-117.6 0 0-46.6 1.6 3 2.3 1.5 2.1 .6 6.1 .6 9-.8 8.1-1.9 5.5-2.6 2.1-2 .9-1.4 .6-3.1-.6-2.5-1.2-2-3.9-3-3.8-1.5-3.2-.7-4.5-.5-3 .2-4.6 1-2.9 1.3-3.1 2-3.2 2.7-2.6 3-1.7 4z"/>
<path fill="#0000ff" d="M293.2 510.8l218.6 0 0 214.8-4.5 .5-6.1-.1-3-.4-2.5-1.1-1.4-1.5-.7-1.5-2.9-9.4-1.5-2-3-1.7-4.6-.7-12 .9-12.1-.7-15 1.5-13.6-.9-6 0-12.1 1-4.5 .9-1.5 .7-1.5 1.3-.6 1.6 .3 10.5-.5 4.5-109.3 0 0-38.1 6 .7 9.1-.2 12-1.4 7.5-1.6 4.6-2.1 2.8-2.4 1.5-3.1 .4-3-.3-3-1-3-1.9-2.9-1.7-1.6-2.8-1.9-3-1.3-7.6-1.7-7.5-.3-6 1.1-5.1 2.6-7 5.9z"/>
<path fill="#1048b0" d="M293.2 510.8l218.6 0 0 183-7.5-.4-18.1 1.7-13.6-.2-9 .9-4.6-.2-3-1-1.9-1.7-1.1-1.6-3.5-7.4-2.5-3.5-1.5-1.1-1.5-.5-1.5 0-1.6 .7-1.5 1.5-1.6 2.9-2.9 7.3-1.5 2-1.5 1.1-3 .6-3-.7-4.6-1.7-3-.2-1.5 .6-6 5.5-3 1.7-4.5 1.5-10.4 1.8-3.2 1.5-1 1.5-.1 1.5 .4 1.5 5.2 9.1 1.3 4.5-.2 3-.8 1.5-1.5 1.5-99.8 0 0-33.6 30.2-2.3 4.5-.6 4.4-1.1 4.6-2.3 2.7-2.2 1.7-3 .5-4.6-.3-3-1.1-4.5-1.3-3-2.1-3-4.6-3.5-6-2.2-6.1-1.1-6-.4-4.5 .1-4.5 .6-3.1 1.1-3 1.6-6 5.4z"/>
<path fill="#087878" d="M293.2 510.8l218.6 0 0 171-18.1-.1-18.1-1.4-4.5 .7-7.5 2.3-3.1-.1-3-1.7-4.5-5.2-3.3-3-4.2-1.8-4.6-.2-3 .9-1.7 1.1-1.6 1.5-4.2 5.9-1.5 1.4-3 .9-7.6 .6-3 1.4-3 3-4.5 5.6-4.5 3.1-4.6 1.5-13.8 2.2-3.5 1.5-1.3 1.5-.3 1.5 .3 1.5 1.4 3 6.1 9.1 1.2 3 .1 3-.6 1.5-2.9 3-92.2 0 0-29.4 4.5-1.3 6.1-.9 24.1-1.1 6-1.1 5.3-2.3 4.2-3 2.2-3 1-4.5-.4-4.6-1-4.5-1.4-4.5-1.4-3-2.2-3-1.8-1.7-3-2.1-3-1.4-4.5-1.2-7.6-.8-9-.3-6 .4-3.1 .7-3 1.3-3 2.2-3 3.3z"/>
<path fill="#00a850" d="M293.2 510.8l218.6 0 0 156-7.5-.7-18.1 2.3-13.6-.1-9 .7-4.6-.5-7.5-2.4-7.5-1.1-7.6-.1-4.5 1.2-3 2.2-6 6.1-9.1 5.4-3 3-5 7.1-4.1 3.5-4.5 1.9-4.5 .9-15.1 .5-3 .5-4 1.7-1.9 1.5-1 1.5-.1 1.5 .7 1.5 9.3 8.8 2.7 3.3 1.8 3 .7 3-.2 1.5-1.8 3-1.8 1.5-85.8 0 0-24.8 4.5-2.4 7.6-1.6 9-.5 15.1 .5 6-1.2 9.1-4.4 4.2-3.2 1.8-3 .7-3 .3-3-.3-4.6-1-4.5-3.2-9-1.9-3-2.7-3-4-3-3-1.6-3-1-4.5-.6-18.1-.3-6 .2-3.1 .5-3 1.1-2.4 1.7-2.1 2.5zM454.5 631.1l-5.7 1.6-2.3 1.5-1 1.2-1 1.8-.2 1.5 .3 1.5 .9 1.6 3 1.6 6 .3 7.5-1.5 3.7-2 1.1-1.5 .2-1.5-.5-1.5-1.2-1.5-2.1-1.5-2.7-1-3-.6z"/>
<path fill="#00ff00" d="M293.2 510.8l218.6 0 0 114.2-34.7 5.7-4.5-.1-9-2.1-6.1-.7-6 .5-6 1.8-4.3 2.6-1.6 1.5-2 3-1.1 3-.6 7.5-1 3.1-1.5 1.6-7.5 4.3-3.7 3.1-7 10.5-7.4 8.8-4.5 7.9-3.1 3.3-4.5 2.2-4.5 1-6-.1-9.1-2-3-.2-12.1 3.2-3-.3-.8-1.2-.6-3 .8-13.6-.9-4.5-3.5-7.5-2.7-4.5-2.8-3.4-4.5-3.8-7.6-4.8-4.5-1.6-3-.1-10.6 1.3-19.6-.6-4.5 .4zM499.8 640.2l3-.9 3-.3 3 .2 3 1.3 0 15.6-4.5 .9-7.6-.5-4.5-1.3-2-1.4-1-1.3-.7-1.8 0-1.5 .9-3 2.8-3.3zM346.5 698.9l5.5-1.3 1.5 .1 1.5 .6 3.5 8.1 2.5 3.6 3.1 2.5 7.5 4.4 3 3.1 .9 3-.2 1.5-.9 1.5-1.8 1.5-3.2 1.5-76.2 0 0-18.6 2.4-2.5 2.1-1.5 4.5-1.8 7.6-1.2 7.5 .1 10.6 1.2 4.5-.1 4.5-1.3z"/>
<path fill="#50ff00" d="M293.2 510.8l191.3 0-4 3-1 1.5-.4 1.5 .7 3 1.8 2.4 4.6 3.3 19.6 10.7 3 1.3 3 .6 0 68.2-4.1 6.8-2.8 3-4.9 3-4.1 1.6-11.8 3-8.5 1.5-4.5 .2-13.6-.5-7.5 .8-6 1.6-6.1 3.1-3.2 2.3-3 3-5.8 7.6-7.6 8.2-3 3.9-6.4 10.4-6.6 9-2.6 9.1-1.8 3-2.2 1.8-4.5 1.5-4.5-.1-3-1-3.9-2.2-5.2-3.9-4.5-2.3-1.5-1.8-2.4-5.6-1.7-3-10.9-15-3.1-3.1-10-7.5-6.6-7-3-2.4-3-1.3-3-.4-31.7 0zM344.4 706.4l3.1-.3 1.5 .5 1.5 1.3 4.5 7 5 6.6 .4 1.5-.5 1.5-4.6 4.5-57.7 0-1.2-3-.7-3 .4-4.5 2.5-4.5 3.6-3.1 4.6-1.7 4.5-.4 4.5 .2 10.6 1.7 6 .1 4.5-1.1z"/>
<path fill="#90ff00" d="M293.2 510.8l177.6 0-2.9 1.5-1.6 1.5-.7 1.5 .4 3 3.1 4.5 5.5 4.6 14.3 9 13.9 12.4 4.5 2.4 4.5 .5 0 33.8-3 4.4-4.5 4.6-4.6 2.9-10.1 5.2-4.4 3-2.4 3-1.9 4.5-1 1.5-3.7 3-3.2 1.5-5.3 1.6-20.7 2.5-4.5 1.3-5.4 2.2-8.2 4.4-9.1 4.2-3 2.2-2.1 2.7-4 9-2.9 4.9-4.3 5.7-3.3 2.7-4.5 1.9-15.1 3.1-3 .2-3-.8-3-1.7-4.5-3.8-3-3.3-5.7-7.4-1.9-1.8-3-1.9-6-3.1-3.1-2.2-2.9-3-5.9-7.5-3.2-2.2-3-1-9.1-1.4-4.5-1.3-3.4-1.6-7.1-4.7-3.1-1-3 .6-1.5 1.2-4.5 5.5z"/>
<path fill="#c8ff00" d="M293.2 510.8l156.7 0 .3 3 1.1 3 2.9 4.5 2.9 3 4.9 4 10.9 6.6 6.4 4.5 11.8 12 14.7 13.1 3 1.7 1.5 .2 1.5-.9 0 4-1.5 1.5-4.7 9-2.8 3.4-3.1 2.4-6 3.2-29.7 12.1-5.2 3-1.4 1.5-.3 1.5 2.2 4.5 .2 1.5-.5 1.5-1.8 1.5-14.7 4.1-13.6 5.9-10.6 3.5-3.3 1.6-4.3 3-2.7 3-4.7 8.7-2.5 3.3-2.1 2-3 1.7-4.5 1.5-6 1-4.6 .1-3-.5-4.5-2-2.6-2.3-2.5-3-3.9-6.5-1.6-1.6-1.4-.9-3.1-.4-6 .5-3-.7-3.5-2.4-6.9-9-3.2-2.5-3-1.2-10.2-2.3-2.8-1.6-2.1-2-3.4-5.5-2.6-2.9-2.6-1.6-6.5-3-3-2.5-6-9z"/>
<path fill="#ffff00" d="M293.2 510.8l142.6 0-.5 3 .1 1.5 1 2.5 1.6 2 13.2 10.6 15.4 9.2 4.3 4.3 6.2 8.4 9.1 6.3 3 2.8 1.7 2.1 1.5 3 .6 3-.6 3-1.7 2.6-3 2.3-7.6 3.7-12 6.8-22.6 9.7-6 3.5-1.6 1.6-1.6 2.9-.7 7.5-.4 1.5-2.2 3-2 1.5-3.6 2-12.1 4.9-18.1 10.3-13.5 5.1-3.1 .5-3-.3-3-1.7-6-6.7-3-2.1-4.6-1.3-9 .2-3-1.2-1.5-1.5-3.6-5.1-2.5-2.9-9-6.1-1.5-1.5-5.4-9.1-3.7-3.9-4.5-2.6-13.5-4.7-4.6-2.5-6-4z"/>
<path fill="#ffcc00" d="M293.2 510.8l132.5 0-3.4 6-1.8 6 0 6.1 .8 3.4 1.6 3.2 1.5 1.9 1.5 1 1.5 .2 7.5-1.3 6 .3 13.6 3.4 6 2.8 3.4 3.1 2 3 1.4 3 3.3 10.6 .2 3-.3 1.5-1.5 3-2.4 3-3 2.5-3.1 1.6-3 .8-3 .2-9-.8-1.5 .4-1.5 1.3-2.6 4.5-2.4 3-2.6 2.1-6.5 4-2.8 3-1.3 3-.7 3-.8 9-1.2 3-1.1 1.5-3.3 3-4.3 3.1-8.1 4.7-4.6 1.6-4.5 .6-13.6-.4-3-.6-9-3.3-12.1-2.2-3-1.4-1.5-1.2-7.5-9.3-8.7-8.1-7.9-8.7-4.2-3.3-6.4-2.9-15-3.4-10.6-3.7zM425.9 549.7l-1.5 1.3-1.5 3.2-.8 6.3 .8 3.7 1.5 1.6 1.5 .4 1.5 0 3-1.2 1.4-1.5 .6-1.5 .3-3-.8-4-1.5-2.6-3-2.6z"/>
<path fill="#ffaa00" d="M293.2 510.8l125.9 0-2.2 3-1.6 3-1.4 4.5-.8 4.5-.4 7.6 .2 27.1-.3 6-1 6-2.8 10.5-2.1 16.6 .5 4.5 2.3 6 .4 3-.7 3-2.1 3-2.3 1.8-2.8 1.3-4.8 .5-3-.5-3-1.1-9.1-5.5-4.5-1.7-3-.1-9 1.9-3.1-.2-1.5-.5-3-2.5-7.5-10.5-7.7-6.9-8.4-9.1-5-3.7-4.5-2.2-4.6-1.2-16.5 0-10.6-1.3zM327.9 536.4l-3.5 1.5-1.9 1.5-1.3 1.5-1.3 3-.3 3 .7 4.2 1.5 3.3 1.6 1.7 1.5 .8 3 .3 6-1.4 7.5-3.5 2.9-2.4 1.2-1.5 1.2-3-.3-3-.7-1.5-2.7-2.6-4.2-1.9-3.4-.7-3-.1zM452.5 551.4l2-.5 1.5 .3 1.5 .8 1.5 1.9 .9 2 .4 3.1-.5 3-.8 1.6-1.3 1.4-1.7 .7-3-.5-1.5-1.1-1.5-2.1-.5-1.5-.3-3.1 .7-3 .9-1.5z"/>
<path fill="#ff9000" d="M293.2 510.8l120 0-1.8 3-1.3 3-2.3 10.6-1.5 15 .7 16.6-.1 4.5-.9 4.5-2.1 4.5-3.7 5.4-4.5 4.6-3 1.7-8.1 3.3-8.5 4.7-3 1.2-4.5 .4-4.5-.6-7.6-2-4.5-2.1-3.8-3.1-5.4-6-7.4-7.1-1.3-1.9-.7-3 1-3 1.4-1.5 4.2-3 10.1-6.1 3.7-3 2.1-3 .6-1.5 .3-3-.3-1.5-1.8-3-1.6-1.5-5.3-3-7.9-2.4-6-.6-6 .8-4.5 1.5-3.8 2.2-2.8 3-1.5 3-1 4.5 .1 13.6-.4 4.5-1.2 3-1.5 2.1-3.2 2.4-3.9 1.5-5 .8-6 .2z"/>
<path fill="#ff7000" d="M293.2 510.8l113.6 0-5.1 15.6-1.5 2.7-1.5 1.6-1.5 .8-3 .1-7.5-1.7-6.1-.3-4.5 .4-10.5 2.1-4.6 .1-19.6-3-6-.4-4.5 .3-4.5 1-7.6 2.9-4.5 3.6-1.9 2.8-1.4 3-1.4 6-1.5 13.6-1.9 4.5-2.4 2.5-3.1 1.8-3 1-4.5 .7zM360.1 559l2.4-.5 3.1 .1 3 .8 2 1.1 1.9 1.5 2.1 2.5 2.4 5 .7 4.5-1 3-1.1 1.5-2.5 2.3-4.5 2.4-3 .7-3.1 .1-3-.6-3-1.5-2.3-1.9-2.6-3-3.1-4.5-1.4-3-.2-1.5 .3-1.5 1-1.5 1.7-1.5 5.1-2.8z"/>
<path fill="#ff5000" d="M293.2 510.8l95.7 0 3.2 1.5 .7 1.5-.8 1.5-.8 .5-3 .6-7.6 .7-3 .7-13.5 5.7-6.1 1.9-7.5 1-12.1-.6-6 .3-9 2-7.6 3.1-4.6 3.7-2.1 3-1.5 3-2.3 7.5-1.9 12.1-1.2 3.3-2 2.7-1.9 1.5-5.1 2z"/>
<path fill="#ff3000" d="M293.2 510.8l77 0-3 3-4.2 3-5 2.8-4.4 1.7-6.1 1.2-12.1 .3-6 .9-12.1 3.3-4.2 1.9-2.3 1.5-2.5 2.2-1.8 2.3-3 6-2.5 7.5-1.7 10.6-.9 3-2.1 3-3.1 2.1z"/>
<path fill="#ff1800" d="M293.2 510.8l68.3 0-6.8 4.5-5.7 2.5-4.5 .9-10.6 1.1-6 1.2-15.1 3.8-3 1.3-3 1.8-2.5 2.5-2 3-4 9-2.3 7.5-1.1 9.1-1.7 3.7z"/>
<path fill="#ff0000" d="M293.2 510.8l54.6 0-2 1.5-4.4 1.7-21.1 4.8-13.5 1.7-4.6 1.5-1.5 1.2-2 2.6-5.5 12.3z"/>
<path d="M393.8 574.6 400.3 568.1 406.9 564.3 414.5 561.5 422.2 558.8 426.5 562.1 427.6 564.8 425.5 568.1 421.1 572.4 416.7 575.2 411.2 576.8 405.8 579.0 399.2 579.0 394.3 576.8 393.8 574.6" fill="none" stroke="#333" stroke-width="0.8" stroke-dasharray="1.8 1.1"/>
<ellipse cx="340.2" cy="551.4" rx="1.9" ry="1.0" fill="none" stroke="#222" stroke-width="0.9" stroke-dasharray="1.8 0.7"/>
<ellipse cx="339.4" cy="559.1" rx="3.6" ry="1.1" fill="none" stroke="#222" stroke-width="0.9" stroke-dasharray="1.8 0.7"/>
<ellipse cx="348.7" cy="555.8" rx="1.4" ry="0.5" fill="none" stroke="#222" stroke-width="0.9" stroke-dasharray="1.8 0.7"/>
<ellipse cx="362.3" cy="564.5" rx="2.5" ry="1.0" fill="none" stroke="#222" stroke-width="0.9" stroke-dasharray="1.8 0.7"/>
<ellipse cx="342.4" cy="563.4" rx="0.8" ry="0.5" fill="none" stroke="#222" stroke-width="0.9" stroke-dasharray="1.8 0.7"/>
<ellipse cx="345.7" cy="546.0" rx="1.9" ry="0.8" fill="none" stroke="#222" stroke-width="0.9" stroke-dasharray="1.8 0.7"/>
<path d="M353.3 536.4q2.4 -0.6 2.6 1.5q-0.4 1.8 -2.4 1.6" fill="none" stroke="#222" stroke-width="0.8" stroke-dasharray="1.5 0.6"/>
<path d="M503.6 585.8v2h2.2v-1.2h-1.4" fill="none" stroke="#333" stroke-width="0.6"/>
<ellipse cx="418.9" cy="704.5" rx="1.4" ry="0.5" fill="none" stroke="#444" stroke-width="0.5" stroke-dasharray="0.8 0.8"/>
<ellipse cx="432.6" cy="709.9" rx="1.6" ry="0.8" fill="none" stroke="#444" stroke-width="0.5" stroke-dasharray="0.8 0.8"/>
<ellipse cx="446.2" cy="703.1" rx="1.1" ry="0.5" fill="none" stroke="#444" stroke-width="0.5" stroke-dasharray="0.8 0.8"/>
<ellipse cx="457.1" cy="712.6" rx="1.4" ry="0.5" fill="none" stroke="#444" stroke-width="0.5" stroke-dasharray="0.8 0.8"/>
<ellipse cx="465.3" cy="719.5" rx="2.2" ry="0.8" fill="none" stroke="#444" stroke-width="0.5" stroke-dasharray="0.8 0.8"/>
<ellipse cx="438.0" cy="720.8" rx="1.1" ry="0.5" fill="none" stroke="#444" stroke-width="0.5" stroke-dasharray="0.8 0.8"/>
<ellipse cx="476.3" cy="704.5" rx="1.4" ry="0.8" fill="none" stroke="#444" stroke-width="0.5" stroke-dasharray="0.8 0.8"/>
<ellipse cx="427.1" cy="716.7" rx="0.8" ry="0.5" fill="none" stroke="#444" stroke-width="0.5" stroke-dasharray="0.8 0.8"/>
<ellipse cx="489.9" cy="714.0" rx="1.6" ry="0.8" fill="none" stroke="#444" stroke-width="0.5" stroke-dasharray="0.8 0.8"/>
<ellipse cx="470.8" cy="699.0" rx="1.1" ry="0.5" fill="none" stroke="#444" stroke-width="0.5" stroke-dasharray="0.8 0.8"/>
<path d="M301.4 658.1L299.2 674.5L296.5 690.8" fill="none" stroke="#445" stroke-width="0.6" opacity="0.7"/>
<rect x="455.1" y="644.8" width="58.7" height="86.2" fill="#fff" fill-opacity="0.05" stroke="#000" stroke-opacity="0.05" stroke-width="0.6"/>
<g fill="#000"><circle cx="334.2" cy="535.3" r="0.8"/><circle cx="341.0" cy="544.9" r="3.4"/><circle cx="347.9" cy="544.9" r="3.4"/><circle cx="347.9" cy="551.7" r="2.2"/><circle cx="416.2" cy="551.7" r="3.4"/><circle cx="327.4" cy="565.4" r="0.8"/><circle cx="327.4" cy="579.0" r="3.4"/><circle cx="334.2" cy="579.0" r="3.4"/><circle cx="388.8" cy="579.0" r="3.4"/><circle cx="334.2" cy="585.8" r="3.4"/><circle cx="327.4" cy="592.6" r="0.8"/><circle cx="334.2" cy="592.6" r="3.4"/><circle cx="354.7" cy="626.7" r="3.4"/><circle cx="334.2" cy="640.4" r="3.4"/><circle cx="341.0" cy="640.4" r="1.5"/><circle cx="327.4" cy="647.2" r="3.4"/><circle cx="341.0" cy="647.2" r="3.4"/><circle cx="327.4" cy="654.0" r="3.4"/><circle cx="334.2" cy="654.0" r="3.4"/><circle cx="320.5" cy="674.5" r="1.5"/></g>
</g>
<text x="446.3" y="528.7" font-size="13.3" textLength="63.7" lengthAdjust="spacingAndGlyphs">Middle July</text>
<text x="360.7" y="543.9" font-size="10.5" textLength="59.7" lengthAdjust="spacingAndGlyphs">Xisha Islands</text>
<text x="420.4" y="585.7" font-size="10.5" textLength="78.9" lengthAdjust="spacingAndGlyphs">Zhongsha Islands</text>
<text x="460.8" y="659" font-size="12" textLength="44.6" lengthAdjust="spacingAndGlyphs">Catch(t)</text>
<text x="475.8" y="675.5" font-size="12">0 ~ 1</text>
<text x="475.8" y="690.5" font-size="12">1 ~ 2</text>
<text x="475.8" y="706" font-size="12">2 ~ 5</text>
<text x="475.8" y="720.5" font-size="12" textLength="31.6" lengthAdjust="spacingAndGlyphs">5 ~ 50</text>
<circle cx="462.4" cy="671.7" r="0.9"/>
<circle cx="462.4" cy="686.7" r="1.6"/>
<circle cx="462.4" cy="702.2" r="2.4"/>
<circle cx="462.4" cy="716.7" r="3.4"/>
<rect x="293.2" y="510.8" width="218.6" height="218.2" fill="none" stroke="#222" stroke-width="1"/>
<path d="M293.2 729.0v2.5M293.2 510.8h-2.5M320.5 729.0v2.5M293.2 538.1h-2.5M347.9 729.0v2.5M293.2 565.4h-2.5M375.2 729.0v2.5M293.2 592.6h-2.5M402.5 729.0v2.5M293.2 619.9h-2.5M429.8 729.0v2.5M293.2 647.2h-2.5M457.1 729.0v2.5M293.2 674.5h-2.5M484.5 729.0v2.5M293.2 701.7h-2.5M511.8 729.0v2.5M293.2 729.0h-2.5" stroke="#222" stroke-width="1" fill="none"/>
<rect x="514.6" y="716.39" width="12.30" height="8.61" fill="#9966ee"/>
<rect x="514.6" y="708.08" width="12.30" height="8.61" fill="#7048f0"/>
<rect x="514.6" y="699.76" width="12.30" height="8.61" fill="#4a30f0"/>
<rect x="514.6" y="691.45" width="12.30" height="8.61" fill="#4a30f0"/>
<rect x="514.6" y="683.14" width="12.30" height="8.61" fill="#2010f8"/>
<rect x="514.6" y="674.83" width="12.30" height="8.61" fill="#0000ff"/>
<rect x="514.6" y="666.52" width="12.30" height="8.61" fill="#1048b0"/>
<rect x="514.6" y="658.20" width="12.30" height="8.61" fill="#087878"/>
<rect x="514.6" y="649.89" width="12.30" height="8.61" fill="#00a850"/>
<rect x="514.6" y="641.58" width="12.30" height="8.61" fill="#00ff00"/>
<rect x="514.6" y="633.27" width="12.30" height="8.61" fill="#00ff00"/>
<rect x="514.6" y="624.96" width="12.30" height="8.61" fill="#50ff00"/>
<rect x="514.6" y="616.64" width="12.30" height="8.61" fill="#90ff00"/>
<rect x="514.6" y="608.33" width="12.30" height="8.61" fill="#c8ff00"/>
<rect x="514.6" y="600.02" width="12.30" height="8.61" fill="#ffff00"/>
<rect x="514.6" y="591.71" width="12.30" height="8.61" fill="#ffff00"/>
<rect x="514.6" y="583.40" width="12.30" height="8.61" fill="#ffcc00"/>
<rect x="514.6" y="575.08" width="12.30" height="8.61" fill="#ffaa00"/>
<rect x="514.6" y="566.77" width="12.30" height="8.61" fill="#ff9000"/>
<rect x="514.6" y="558.46" width="12.30" height="8.61" fill="#ff7000"/>
<rect x="514.6" y="550.15" width="12.30" height="8.61" fill="#ff5000"/>
<rect x="514.6" y="541.84" width="12.30" height="8.61" fill="#ff3000"/>
<rect x="514.6" y="533.52" width="12.30" height="8.61" fill="#ff3000"/>
<rect x="514.6" y="525.21" width="12.30" height="8.61" fill="#ff1800"/>
<rect x="514.6" y="516.90" width="12.30" height="8.61" fill="#ff0000"/>
<text x="529.8" y="528.7" font-size="9">30.7</text>
<text x="529.8" y="545.3" font-size="9">30.5</text>
<text x="529.8" y="562.0" font-size="9">30.3</text>
<text x="529.8" y="578.7" font-size="9">30.1</text>
<text x="529.8" y="595.4" font-size="9">29.9</text>
<text x="529.8" y="612.1" font-size="9">29.7</text>
<text x="529.8" y="628.8" font-size="9">29.5</text>
<text x="529.8" y="645.4" font-size="9">29.3</text>
<text x="529.8" y="662.1" font-size="9">29.1</text>
<text x="529.8" y="678.8" font-size="9">28.9</text>
<text x="529.8" y="695.5" font-size="9">28.7</text>
<text x="529.8" y="712.2" font-size="9">28.5</text>
<text x="529.8" y="728.9" font-size="9">28.3</text>
<text x="514.5" y="514.3" font-size="10" textLength="32.6" lengthAdjust="spacingAndGlyphs">SST/°C</text>
<text x="295.6" y="744.2" font-size="12.6" text-anchor="middle">110°</text>
<text x="322.9" y="744.2" font-size="12.6" text-anchor="middle">111°</text>
<text x="350.2" y="744.2" font-size="12.6" text-anchor="middle">112°</text>
<text x="377.6" y="744.2" font-size="12.6" text-anchor="middle">113°</text>
<text x="404.9" y="744.2" font-size="12.6" text-anchor="middle">114°</text>
<text x="432.2" y="744.2" font-size="12.6" text-anchor="middle">115°</text>
<text x="459.5" y="744.2" font-size="12.6" text-anchor="middle">116°</text>
<text x="486.9" y="744.2" font-size="12.6" text-anchor="middle">117°</text>
<text x="514.2" y="744.2" font-size="12.6" text-anchor="middle">118°</text>
<text x="528.0" y="744.2" font-size="12.6">E</text>
</svg>
</body></html>
